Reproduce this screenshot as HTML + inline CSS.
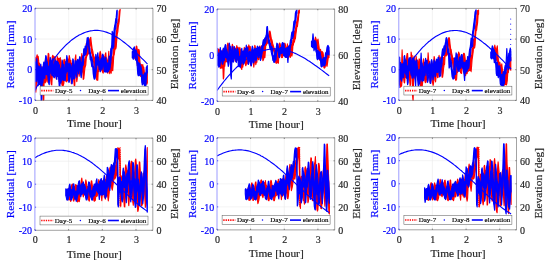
<!DOCTYPE html>
<html><head><meta charset="utf-8"><title>Residual and elevation</title>
<style>
html,body{margin:0;padding:0;background:#fff;}
body{width:550px;height:263px;overflow:hidden;}
svg{display:block;font-family:"Liberation Serif","Times New Roman",serif;}
.tk{font-size:10px;fill:#262626;stroke:#262626;stroke-width:0.18px;}
.lb{font-size:11.4px;fill:#262626;stroke:#262626;stroke-width:0.18px;}
.lg{font-size:7px;fill:#000;stroke:#000;stroke-width:0.15px;}
.bl{fill:#0000ff;stroke:#0000ff;}
</style></head><body>
<svg width="550" height="263" viewBox="0 0 550 263"><rect width="100%" height="100%" fill="#fff"/><g><clipPath id="c0"><rect x="35.0" y="7.8" width="117.9" height="93.1"/></clipPath><path d="M68.7 8.3V100.4M102.4 8.3V100.4M136.1 8.3V100.4M35.0 69.7H152.9M35.0 39.0H152.9" stroke="#e9e9e9" stroke-width="0.55" fill="none"/><g clip-path="url(#c0)"><path d="M35.2 57.2L35.8 75.5L36.2 60.7L36.8 55.9L37.2 54.7L37.8 60.2L38.2 56.3L38.8 61.9L39.2 63.3L39.8 64.4L40.2 66.3L40.8 68.8L41.2 66.0L41.8 70.5L42.2 69.4L42.8 68.9L43.2 83.6L43.8 65.4L44.2 66.7L44.8 63.8L45.2 60.7L45.8 63.3L46.2 61.6L46.8 63.9L47.2 64.6L47.8 58.5L48.2 53.4L48.8 53.9L49.2 60.4L49.8 60.7L50.2 64.2L50.8 66.9L51.2 72.6L51.8 70.8L52.2 57.0L52.8 55.2L53.2 56.2L53.8 61.0L54.2 56.5L54.8 59.0L55.2 57.5L55.8 66.9L56.2 67.2L56.8 66.4L57.2 56.4L57.8 58.1L58.2 61.5L58.8 58.3L59.2 68.1L59.8 58.6L60.2 57.6L60.8 59.8L61.2 62.0L61.8 72.0L62.2 73.0L62.8 70.6L63.2 68.2L63.8 59.7L64.2 68.2L64.8 59.3L65.2 62.6L65.8 70.2L66.2 66.1L66.8 68.7L67.2 69.9L67.8 67.2L68.2 59.1L68.8 61.5L69.2 55.5L69.8 57.9L70.2 62.7L70.8 60.2L71.2 64.1L71.8 68.0L72.2 63.0L72.8 64.3L73.2 66.1L73.8 65.6L74.2 68.7L74.8 74.1L75.2 58.4L75.8 54.9L76.2 65.7L76.8 69.8L77.2 64.2L77.8 60.6L78.2 60.9L78.8 62.7L79.2 62.1L79.8 59.7L80.2 57.0L80.8 60.3L81.2 62.3L81.8 53.6L82.2 57.3L82.8 56.0L83.2 64.4L83.8 67.6L84.2 65.9L84.8 59.1L85.2 57.8L85.8 57.1L86.2 43.5L86.8 43.6L87.2 47.0L87.8 46.0L88.2 48.3L88.8 40.3L89.2 41.9L89.8 38.9L90.2 38.1L90.8 37.3L91.2 41.7L91.8 46.1L92.2 49.2L92.8 51.2L93.2 53.7L93.8 56.4L94.2 56.8L94.8 59.8L95.2 64.7L95.8 63.8L96.2 69.9L96.8 73.2L97.2 75.9L97.8 67.8L98.2 61.0L98.8 63.5L99.2 61.6L99.8 52.9L100.2 51.4L100.8 53.7L101.2 58.2L101.8 61.6L102.2 62.3L102.8 61.3L103.2 58.6L103.8 56.6L104.2 61.1L104.8 59.3L105.2 54.4L105.8 52.8L106.2 57.8L106.8 58.7L107.2 62.2L107.8 61.7L108.2 59.7L108.8 51.3L109.2 61.9L109.8 63.9L110.2 59.6L110.8 61.5L111.2 62.1L111.8 56.6L112.2 57.7L112.8 59.9L113.2 49.3L113.8 47.8L114.2 44.6L114.8 36.8L115.2 38.7L115.8 40.9L116.2 33.6L116.8 29.2L117.2 24.2L117.8 22.9L118.2 19.6L118.8 18.8L119.2 11.1L119.8 10.3L120.2 9.4L120.2 9.4L119.8 14.2L119.2 21.3L118.8 24.1L118.2 27.1L117.8 31.9L117.2 34.1L116.8 39.5L116.2 46.9L115.8 48.9L115.2 48.6L114.8 50.4L114.2 54.7L113.8 55.8L113.2 64.6L112.8 70.7L112.2 70.5L111.8 63.6L111.2 73.2L110.8 71.5L110.2 67.5L109.8 73.8L109.2 71.3L108.8 68.6L108.2 71.5L107.8 73.3L107.2 72.3L106.8 70.5L106.2 64.4L105.8 61.8L105.2 62.0L104.8 68.2L104.2 68.7L103.8 68.2L103.2 73.1L102.8 72.7L102.2 70.9L101.8 70.3L101.2 66.1L100.8 65.0L100.2 63.2L99.8 67.1L99.2 69.0L98.8 71.5L98.2 71.5L97.8 80.3L97.2 80.3L96.8 80.1L96.2 78.0L95.8 75.2L95.2 74.5L94.8 68.3L94.2 66.8L93.8 63.0L93.2 60.4L92.8 57.1L92.2 53.3L91.8 53.5L91.2 49.4L90.8 43.3L90.2 39.5L89.8 45.4L89.2 49.6L88.8 52.0L88.2 54.1L87.8 52.3L87.2 55.7L86.8 56.2L86.2 58.5L85.8 65.0L85.2 66.7L84.8 69.0L84.2 74.8L83.8 78.6L83.2 79.4L82.8 69.8L82.2 66.4L81.8 71.7L81.2 74.9L80.8 70.2L80.2 70.4L79.8 67.9L79.2 76.3L78.8 73.5L78.2 69.8L77.8 67.4L77.2 79.0L76.8 81.6L76.2 75.5L75.8 72.7L75.2 71.8L74.8 85.4L74.2 85.5L73.8 80.3L73.2 74.6L72.8 73.7L72.2 75.5L71.8 81.7L71.2 83.5L70.8 72.5L70.2 72.7L69.8 67.6L69.2 73.4L68.8 73.8L68.2 71.1L67.8 80.5L67.2 80.1L66.8 81.9L66.2 81.3L65.8 80.8L65.2 75.8L64.8 69.2L64.2 79.6L63.8 83.7L63.2 85.7L62.8 83.1L62.2 85.5L61.8 84.0L61.2 78.0L60.8 70.6L60.2 73.9L59.8 72.9L59.2 81.8L58.8 76.6L58.2 70.1L57.8 67.9L57.2 75.4L56.8 75.0L56.2 78.9L55.8 75.8L55.2 69.3L54.8 74.4L54.2 68.9L53.8 70.5L53.2 68.5L52.8 68.2L52.2 77.4L51.8 84.9L51.2 84.2L50.8 80.5L50.2 74.0L49.8 72.0L49.2 72.6L48.8 72.5L48.2 64.3L47.8 73.6L47.2 82.2L46.8 75.8L46.2 76.2L45.8 81.4L45.2 82.9L44.8 78.6L44.2 77.0L43.8 100.0L43.2 101.3L42.8 86.4L42.2 85.9L41.8 83.6L41.2 83.7L40.8 86.4L40.2 83.1L39.8 82.2L39.2 75.2L38.8 84.4L38.2 83.1L37.8 80.3L37.2 72.4L36.8 73.6L36.2 88.2L35.8 92.3L35.2 80.9ZM134.8 51.6L135.3 51.8L135.8 49.3L136.3 46.0L136.8 46.2L137.3 50.0L137.8 50.9L138.3 49.7L138.8 49.4L139.3 51.0L139.8 59.1L140.3 66.8L140.8 65.8L141.3 64.4L141.8 65.3L142.3 65.8L142.8 64.6L143.3 67.9L143.8 67.2L144.3 71.6L144.8 79.3L145.3 74.7L145.8 75.1L146.3 75.1L146.8 74.1L147.3 71.1L147.3 82.8L146.8 84.2L146.3 83.6L145.8 84.2L145.3 85.9L144.8 86.2L144.3 82.6L143.8 77.9L143.3 73.5L142.8 73.6L142.3 72.9L141.8 76.7L141.3 70.7L140.8 76.5L140.3 75.4L139.8 66.9L139.3 63.6L138.8 61.6L138.3 59.2L137.8 59.0L137.3 65.6L136.8 55.3L136.3 54.5L135.8 59.6L135.3 57.8L134.8 58.8Z" fill="#ff0000" stroke="#ff0000" stroke-width="1.1" stroke-linejoin="round"/><path d="M35.2 62.1L35.8 62.3L36.2 63.5L36.8 58.5L37.2 63.9L37.8 65.7L38.2 70.6L38.8 66.2L39.2 68.0L39.8 73.0L40.2 66.9L40.8 64.0L41.2 80.2L41.8 70.6L42.2 67.2L42.8 67.0L43.2 65.9L43.8 62.2L44.2 63.9L44.8 66.4L45.2 61.0L45.8 55.5L46.2 56.4L46.8 61.6L47.2 61.8L47.8 66.8L48.2 67.5L48.8 74.1L49.2 70.9L49.8 60.9L50.2 57.4L50.8 59.3L51.2 60.7L51.8 61.0L52.2 61.4L52.8 58.7L53.2 66.7L53.8 65.8L54.2 65.7L54.8 61.6L55.2 59.9L55.8 62.9L56.2 61.0L56.8 67.7L57.2 61.0L57.8 63.1L58.2 62.3L58.8 64.3L59.2 64.7L59.8 67.5L60.2 72.5L60.8 68.9L61.2 71.1L61.8 66.9L62.2 60.1L62.8 65.1L63.2 70.1L63.8 64.4L64.2 71.6L64.8 67.7L65.2 68.5L65.8 61.3L66.2 62.9L66.8 55.5L67.2 57.8L67.8 63.3L68.2 63.3L68.8 65.6L69.2 69.4L69.8 63.1L70.2 65.7L70.8 65.0L71.2 66.8L71.8 74.9L72.2 73.0L72.8 58.9L73.2 59.2L73.8 66.9L74.2 71.7L74.8 65.2L75.2 60.6L75.8 63.8L76.2 63.3L76.8 60.8L77.2 60.3L77.8 59.4L78.2 61.5L78.8 66.1L79.2 59.5L79.8 56.7L80.2 60.3L80.8 63.0L81.2 64.1L81.8 64.5L82.2 58.9L82.8 55.9L83.2 57.4L83.8 48.9L84.2 48.9L84.8 49.3L85.2 46.2L85.8 49.2L86.2 46.6L86.8 41.7L87.2 37.9L87.8 38.1L88.2 37.5L88.8 41.7L89.2 47.2L89.8 48.3L90.2 52.5L90.8 54.4L91.2 57.5L91.8 57.1L92.2 59.0L92.8 62.4L93.2 66.2L93.8 68.6L94.2 74.2L94.8 74.8L95.2 65.6L95.8 54.4L96.2 63.4L96.8 60.4L97.2 56.1L97.8 52.8L98.2 56.7L98.8 58.1L99.2 61.4L99.8 62.3L100.2 62.6L100.8 59.9L101.2 58.3L101.8 59.6L102.2 55.0L102.8 54.2L103.2 55.3L103.8 57.0L104.2 59.9L104.8 61.8L105.2 59.0L105.8 57.2L106.2 60.9L106.8 65.0L107.2 63.8L107.8 62.9L108.2 64.2L108.8 62.4L109.2 56.1L109.8 59.2L110.2 59.8L110.8 48.5L111.2 49.0L111.8 44.8L112.2 31.4L112.8 33.2L113.2 38.8L113.8 33.5L114.2 28.8L114.8 25.4L115.2 23.6L115.8 18.7L116.2 17.9L116.8 10.8L117.2 10.2L117.2 13.8L116.8 22.6L116.2 22.7L115.8 28.2L115.2 29.4L114.8 35.7L114.2 38.8L113.8 46.0L113.2 48.1L112.8 44.9L112.2 48.5L111.8 53.1L111.2 56.9L110.8 62.0L110.2 67.0L109.8 69.4L109.2 65.2L108.8 70.5L108.2 71.5L107.8 66.8L107.2 72.4L106.8 71.1L106.2 71.2L105.8 72.0L105.2 68.2L104.8 72.0L104.2 70.6L103.8 66.6L103.2 64.7L102.8 61.4L102.2 69.3L101.8 67.2L101.2 68.1L100.8 70.8L100.2 71.8L99.8 69.4L99.2 69.4L98.8 65.8L98.2 63.8L97.8 60.7L97.2 65.3L96.8 66.4L96.2 70.4L95.8 73.2L95.2 77.7L94.8 79.2L94.2 79.0L93.8 77.3L93.2 73.3L92.8 67.4L92.2 66.1L91.8 66.5L91.2 62.1L90.8 60.1L90.2 59.4L89.8 53.5L89.2 53.6L88.8 47.3L88.2 43.7L87.8 39.7L87.2 44.9L86.8 48.9L86.2 52.3L85.8 54.5L85.2 52.0L84.8 55.5L84.2 55.0L83.8 58.0L83.2 65.1L82.8 64.5L82.2 67.5L81.8 72.6L81.2 77.6L80.8 75.2L80.2 67.0L79.8 67.2L79.2 69.7L78.8 73.9L78.2 70.3L77.8 69.1L77.2 69.2L76.8 77.2L76.2 73.8L75.8 71.3L75.2 70.4L74.8 77.9L74.2 78.8L73.8 78.8L73.2 70.8L72.8 76.1L72.2 83.3L71.8 83.8L71.2 77.5L70.8 75.3L70.2 74.6L69.8 77.9L69.2 82.2L68.8 82.2L68.2 71.7L67.8 71.8L67.2 71.3L66.8 67.6L66.2 73.2L65.8 72.5L65.2 80.8L64.8 80.1L64.2 79.6L63.8 80.5L63.2 80.3L62.8 78.5L62.2 74.7L61.8 79.9L61.2 81.3L60.8 83.2L60.2 81.3L59.8 87.3L59.2 85.5L58.8 79.4L58.2 74.1L57.8 76.4L57.2 73.4L56.8 79.4L56.2 76.6L55.8 74.6L55.2 71.4L54.8 76.4L54.2 77.8L53.8 77.2L53.2 75.2L52.8 71.0L52.2 75.8L51.8 74.2L51.2 73.8L50.8 69.0L50.2 68.8L49.8 72.6L49.2 84.6L48.8 83.5L48.2 79.4L47.8 75.5L47.2 74.0L46.8 73.6L46.2 74.8L45.8 65.9L45.2 72.6L44.8 78.6L44.2 77.2L43.8 74.4L43.2 78.9L42.8 82.8L42.2 80.6L41.8 99.5L41.2 101.3L40.8 77.0L40.2 83.3L39.8 84.7L39.2 84.0L38.8 78.9L38.2 85.7L37.8 80.4L37.2 78.4L36.8 74.9L36.2 81.5L35.8 81.4L35.2 79.8ZM132.3 51.6L132.8 52.5L133.3 49.1L133.8 48.0L134.3 46.9L134.8 51.9L135.3 51.9L135.8 49.9L136.3 50.8L136.8 53.1L137.3 59.0L137.8 63.9L138.3 62.4L138.8 63.8L139.3 65.4L139.8 63.1L140.3 67.2L140.8 66.1L141.3 68.4L141.8 71.6L142.3 78.6L142.8 74.9L143.3 76.7L143.8 75.7L144.3 74.1L144.8 72.9L145.3 76.3L145.8 75.1L146.3 67.3L146.8 66.5L147.3 65.6L147.3 72.5L146.8 73.6L146.3 77.6L145.8 86.8L145.3 83.1L144.8 89.1L144.3 83.6L143.8 82.7L143.3 84.0L142.8 84.1L142.3 84.9L141.8 82.2L141.3 73.7L140.8 74.6L140.3 74.6L139.8 74.4L139.3 75.6L138.8 71.0L138.3 75.7L137.8 74.1L137.3 67.0L136.8 62.4L136.3 59.7L135.8 60.2L135.3 58.9L134.8 57.3L134.3 56.0L133.8 52.8L133.3 59.3L132.8 58.1L132.3 57.7Z" fill="#0000ff" stroke="#0000ff" stroke-width="1.2" stroke-linejoin="round"/><polyline points="35.0,90.4 36.4,87.6 37.8,85.0 39.3,82.3 40.7,79.8 42.1,77.3 43.5,74.8 45.0,72.5 46.4,70.2 47.8,67.9 49.2,65.8 50.7,63.7 52.1,61.6 53.5,59.6 54.9,57.7 56.4,55.9 57.8,54.1 59.2,52.4 60.6,50.7 62.1,49.1 63.5,47.6 64.9,46.1 66.3,44.7 67.8,43.4 69.2,42.2 70.6,40.9 72.0,39.8 73.5,38.7 74.9,37.7 76.3,36.8 77.7,35.9 79.1,35.1 80.6,34.4 82.0,33.7 83.4,33.1 84.8,32.5 86.3,32.0 87.7,31.6 89.1,31.2 90.5,30.9 92.0,30.7 93.4,30.5 94.8,30.4 96.2,30.4 97.7,30.4 99.1,30.5 100.5,30.7 101.9,31.0 103.4,31.3 104.8,31.7 106.2,32.1 107.6,32.6 109.1,33.2 110.5,33.8 111.9,34.5 113.3,35.2 114.8,36.0 116.2,36.8 117.6,37.7 119.0,38.6 120.5,39.6 121.9,40.6 123.3,41.7 124.7,42.8 126.1,43.9 127.6,45.1 129.0,46.3 130.4,47.5 131.8,48.8 133.3,50.1 134.7,51.4 136.1,52.7 137.5,54.1 139.0,55.5 140.4,56.9 141.8,58.3 143.2,59.7 144.7,61.2 146.1,62.6 147.5,64.1" fill="none" stroke="#0000ff" stroke-width="1.15"/></g><path d="M35.0 8.3H152.9M35.0 100.4H152.9M152.9 8.3V100.4" stroke="#8c8c8c" stroke-width="0.8" fill="none"/><path d="M35.0 8.3V100.4" stroke="#9c9cff" stroke-width="1" fill="none"/><path d="M35.0 100.4v-1.2M35.0 8.3v1.2M68.7 100.4v-1.2M68.7 8.3v1.2M102.4 100.4v-1.2M102.4 8.3v1.2M136.1 100.4v-1.2M136.1 8.3v1.2M152.9 100.4h-1.2M152.9 69.7h-1.2M152.9 39.0h-1.2M152.9 8.3h-1.2" stroke="#404040" stroke-width="0.6" fill="none"/><path d="M35.0 100.4h1.2M35.0 69.7h1.2M35.0 39.0h1.2M35.0 8.3h1.2" stroke="#0000ff" stroke-width="0.6" fill="none"/><text x="35.4" y="113.5" text-anchor="middle" class="tk">0</text><text x="69.1" y="113.5" text-anchor="middle" class="tk">1</text><text x="102.8" y="113.5" text-anchor="middle" class="tk">2</text><text x="136.5" y="113.5" text-anchor="middle" class="tk">3</text><text x="32.2" y="104.1" text-anchor="end" class="tk bl">-10</text><text x="32.2" y="73.4" text-anchor="end" class="tk bl">0</text><text x="32.2" y="42.7" text-anchor="end" class="tk bl">10</text><text x="32.2" y="12.0" text-anchor="end" class="tk bl">20</text><text x="156.5" y="104.3" class="tk">40</text><text x="156.5" y="73.6" class="tk">50</text><text x="156.5" y="42.9" class="tk">60</text><text x="156.5" y="12.2" class="tk">70</text><text x="94.4" y="127.2" text-anchor="middle" class="lb">Time [hour]</text><text transform="translate(13.8 54.5) rotate(-90)" text-anchor="middle" class="lb bl">Residual [mm]</text><text transform="translate(178.0 54.0) rotate(-90)" text-anchor="middle" class="lb">Elevation [deg]</text><rect x="40.1" y="86.2" width="108" height="8.8" fill="#fff" stroke="#555" stroke-width="0.5"/><path d="M41.3 90.6h12" stroke="#ff0000" stroke-width="1.6" stroke-dasharray="1.3 1"/><text x="54.9" y="92.8" class="lg">Day-5</text><circle cx="80.5" cy="90.6" r="0.75" fill="#0000ff"/><text x="88.3" y="92.8" class="lg">Day-6</text><path d="M108.0 90.6h11" stroke="#0000ff" stroke-width="1.6"/><text x="120.8" y="92.8" class="lg">elevation</text></g>
<g><clipPath id="c1"><rect x="217.1" y="8.6" width="117.5" height="93.3"/></clipPath><path d="M250.7 9.1V101.4M284.2 9.1V101.4M317.8 9.1V101.4M217.1 55.2H334.6" stroke="#e9e9e9" stroke-width="0.55" fill="none"/><g clip-path="url(#c1)"><path d="M217.3 48.4L217.8 49.1L218.3 49.9L218.8 49.1L219.3 49.7L219.8 51.0L220.3 56.0L220.8 51.9L221.3 52.9L221.8 59.3L222.3 53.5L222.8 49.9L223.3 68.3L223.8 54.7L224.3 53.0L224.8 53.7L225.3 50.9L225.8 49.3L226.3 50.2L226.8 51.8L227.3 46.3L227.8 43.1L228.3 44.1L228.8 47.1L229.3 47.8L229.8 52.3L230.3 52.9L230.8 58.7L231.3 57.7L231.8 47.9L232.3 44.3L232.8 45.7L233.3 47.5L233.8 47.3L234.3 47.9L234.8 48.0L235.3 52.7L235.8 48.2L236.3 48.7L236.8 45.5L237.3 48.4L237.8 47.2L238.3 47.7L238.8 52.2L239.3 49.3L239.8 47.3L240.3 49.4L240.8 50.3L241.3 57.5L241.8 61.2L242.3 55.5L242.8 58.1L243.3 56.0L243.8 50.6L244.3 47.3L244.8 50.3L245.3 51.2L245.8 48.6L246.3 51.5L246.8 51.0L247.3 53.1L247.8 46.5L248.3 48.3L248.8 44.9L249.3 46.4L249.8 49.3L250.3 46.5L250.8 57.0L251.3 53.9L251.8 50.0L252.3 51.6L252.8 51.2L253.3 53.3L253.8 61.2L254.3 55.1L254.8 45.2L255.3 47.1L255.8 51.8L256.4 56.6L256.9 51.4L257.4 48.0L257.9 50.3L258.4 50.3L258.9 47.2L259.4 47.5L259.9 45.9L260.4 48.5L260.9 47.5L261.4 47.0L261.9 45.5L262.4 48.4L262.9 49.6L263.4 53.9L263.9 44.6L264.4 44.3L264.9 46.3L265.4 41.6L265.9 38.8L266.4 39.4L266.9 37.6L267.4 36.5L267.9 40.5L268.4 36.4L268.9 34.4L269.4 31.4L269.9 31.0L270.4 32.8L270.9 36.1L271.4 39.0L271.9 39.7L272.4 42.1L272.9 44.5L273.4 45.9L273.9 47.5L274.4 48.6L274.9 51.4L275.4 54.3L275.9 55.3L276.4 58.6L276.9 58.7L277.4 51.3L277.9 49.4L278.4 48.7L278.9 47.3L279.4 43.0L279.9 43.2L280.4 44.9L280.9 47.8L281.4 49.1L281.9 50.0L282.4 50.4L282.9 46.2L283.4 47.4L283.9 48.5L284.4 43.9L284.9 43.1L285.4 44.9L285.9 47.2L286.4 49.2L286.9 49.6L287.4 43.8L287.9 47.4L288.4 49.8L288.9 50.6L289.4 47.0L289.9 48.7L290.4 49.1L290.9 46.4L291.4 44.0L291.9 49.3L292.4 45.4L292.9 40.1L293.4 38.9L293.9 33.5L294.4 31.0L294.9 32.8L295.4 29.6L295.9 26.2L296.4 22.8L296.9 21.1L297.4 19.6L297.9 15.9L298.4 11.8L298.9 10.2L299.4 10.0L299.4 12.8L298.9 13.7L298.4 19.5L297.9 22.6L297.4 26.8L296.9 26.4L296.4 30.6L295.9 34.1L295.4 38.6L294.9 39.4L294.4 42.1L293.9 41.7L293.4 44.8L292.9 45.9L292.4 53.1L291.9 56.2L291.4 53.3L290.9 54.3L290.4 57.5L289.9 54.6L289.4 54.8L288.9 57.4L288.4 56.2L287.9 59.2L287.4 56.8L286.9 57.0L286.4 57.3L285.9 53.8L285.4 52.5L284.9 51.0L284.4 54.2L283.9 55.5L283.4 54.9L282.9 55.9L282.4 57.5L281.9 57.7L281.4 57.3L280.9 55.1L280.4 51.3L279.9 50.7L279.4 48.5L278.9 53.4L278.4 63.3L277.9 62.0L277.4 61.5L276.9 63.2L276.4 63.2L275.9 63.0L275.4 60.9L274.9 57.7L274.4 53.3L273.9 51.7L273.4 50.2L272.9 49.8L272.4 47.6L271.9 45.5L271.4 46.4L270.9 42.2L270.4 38.0L269.9 32.9L269.4 35.6L268.9 39.0L268.4 41.5L267.9 43.3L267.4 42.3L266.9 43.5L266.4 45.2L265.9 43.4L265.4 50.7L264.9 57.4L264.4 54.4L263.9 58.3L263.4 59.8L262.9 60.8L262.4 55.9L261.9 52.0L261.4 54.7L260.9 58.9L260.4 58.0L259.9 55.1L259.4 56.3L258.9 59.7L258.4 59.6L257.9 55.7L257.4 55.4L256.9 62.1L256.4 62.0L255.8 64.6L255.3 59.8L254.8 55.2L254.3 62.7L253.8 67.1L253.3 62.4L252.8 60.7L252.3 57.6L251.8 59.7L251.3 63.2L250.8 66.0L250.3 59.9L249.8 56.5L249.3 56.1L248.8 52.0L248.3 58.1L247.8 57.5L247.3 63.6L246.8 63.6L246.3 64.0L245.8 65.8L245.3 64.4L244.8 62.9L244.3 54.9L243.8 61.1L243.3 63.4L242.8 67.3L242.3 63.5L241.8 69.5L241.3 68.8L240.8 66.1L240.3 59.2L239.8 59.8L239.3 58.9L238.8 62.7L238.3 60.4L237.8 58.2L237.3 57.4L236.8 60.4L236.3 61.2L235.8 60.6L235.3 61.4L234.8 58.5L234.3 58.6L233.8 56.7L233.3 55.3L232.8 54.5L232.3 54.4L231.8 56.4L231.3 68.9L230.8 66.0L230.3 61.9L229.8 60.6L229.3 57.7L228.8 58.7L228.3 58.9L227.8 50.6L227.3 57.7L226.8 60.7L226.3 61.9L225.8 61.0L225.3 60.9L224.8 66.2L224.3 63.7L223.8 77.1L223.3 79.0L222.8 64.2L222.3 66.4L221.8 68.3L221.3 67.5L220.8 62.7L220.3 68.5L219.8 64.1L219.3 62.0L218.8 59.5L218.3 64.2L217.8 64.6L217.3 63.6ZM314.0 41.8L314.5 41.3L315.0 39.1L315.5 37.1L316.0 38.6L316.5 41.4L317.0 40.8L317.5 40.6L318.0 39.1L318.5 43.0L319.0 46.5L319.5 51.3L320.0 52.4L320.5 49.2L321.0 52.3L321.5 52.6L322.0 51.4L322.5 52.1L323.0 52.7L323.5 56.1L324.0 64.2L324.5 61.0L325.0 58.8L325.5 59.7L326.0 58.9L326.5 56.0L327.0 61.9L327.5 55.1L328.0 52.7L328.5 51.3L329.0 50.9L329.0 57.5L328.5 56.2L328.0 59.7L327.5 63.5L327.0 66.4L326.5 63.9L326.0 64.5L325.5 65.6L325.0 67.4L324.5 68.1L324.0 67.8L323.5 65.2L323.0 61.7L322.5 57.9L322.0 63.5L321.5 63.9L321.0 58.8L320.5 56.2L320.0 59.6L319.5 60.2L319.0 53.4L318.5 49.7L318.0 47.2L317.5 49.1L317.0 45.4L316.5 46.9L316.0 44.5L315.5 42.4L315.0 47.8L314.5 46.2L314.0 46.1Z" fill="#ff0000" stroke="#ff0000" stroke-width="1.1" stroke-linejoin="round"/><path d="M217.3 48.7L217.8 56.8L218.3 52.9L218.8 54.1L219.3 54.5L219.8 53.6L220.3 47.7L220.8 51.8L221.3 50.7L221.8 51.6L222.3 51.5L222.8 51.3L223.3 48.2L223.8 50.5L224.3 52.1L224.8 46.8L225.3 44.6L225.8 44.9L226.3 49.2L226.8 49.8L227.3 52.2L227.8 55.3L228.3 57.8L228.8 55.3L229.3 43.1L229.8 46.0L230.3 46.2L230.8 53.6L231.3 63.6L231.8 50.1L232.3 46.3L232.8 53.2L233.3 52.5L233.8 51.6L234.3 46.5L234.8 48.2L235.3 50.7L235.8 49.8L236.3 51.1L236.8 52.1L237.3 48.4L237.8 49.2L238.3 51.9L238.8 56.8L239.3 56.5L239.8 57.3L240.3 58.6L240.8 54.9L241.3 49.4L241.8 48.4L242.3 53.5L242.8 52.0L243.3 50.9L243.8 54.8L244.3 55.7L244.8 48.9L245.3 48.3L245.8 50.2L246.3 45.2L246.8 49.0L247.3 50.6L247.8 47.7L248.3 55.4L248.8 53.0L249.3 52.4L249.8 51.0L250.3 52.1L250.8 53.6L251.3 59.5L251.8 49.3L252.3 46.1L252.8 47.4L253.3 50.4L253.8 56.1L254.3 50.2L254.8 48.4L255.3 49.1L255.8 51.5L256.4 48.7L256.9 48.1L257.4 46.1L257.9 49.5L258.4 49.2L258.9 47.0L259.4 46.8L259.9 49.6L260.4 51.9L260.9 52.3L261.4 46.9L261.9 46.2L262.4 46.6L262.9 42.2L263.4 39.8L263.9 40.1L264.4 39.5L264.9 37.9L265.4 38.9L265.9 36.0L266.4 34.5L266.9 26.7L267.4 26.5L267.9 32.5L268.4 37.0L268.9 39.3L269.4 40.3L269.9 43.9L270.4 43.3L270.9 46.5L271.4 48.1L271.9 46.6L272.4 49.7L272.9 54.7L273.4 55.7L273.9 57.7L274.4 57.7L274.9 51.8L275.4 49.9L275.9 52.2L276.4 46.9L276.9 43.2L277.4 44.3L277.9 44.2L278.4 47.5L278.9 49.1L279.4 49.0L279.9 50.4L280.4 47.5L280.9 47.5L281.4 49.6L281.9 43.9L282.4 42.6L282.9 42.8L283.4 44.1L283.9 43.5L284.4 48.8L284.9 50.6L285.4 48.3L285.9 50.4L286.4 51.1L286.9 47.7L287.4 47.6L287.9 50.1L288.4 46.9L288.9 45.8L289.4 48.5L289.9 44.2L290.4 40.3L290.9 39.3L291.4 35.4L291.9 32.2L292.4 33.5L292.9 31.2L293.4 26.9L293.9 21.5L294.4 20.8L294.9 20.2L295.4 13.1L295.9 11.3L296.4 10.6L296.9 10.2L296.9 13.3L296.4 13.9L295.9 20.2L295.4 21.9L294.9 25.4L294.4 26.8L293.9 30.4L293.4 35.5L292.9 37.4L292.4 38.6L291.9 38.6L291.4 42.5L290.9 44.5L290.4 46.5L289.9 51.6L289.4 55.2L288.9 52.9L288.4 54.3L287.9 62.4L287.4 56.3L286.9 55.3L286.4 57.3L285.9 55.1L285.4 57.5L284.9 56.3L284.4 56.2L283.9 55.7L283.4 54.5L282.9 51.6L282.4 48.9L281.9 53.2L281.4 53.5L280.9 53.1L280.4 52.0L279.9 56.1L279.4 57.6L278.9 56.9L278.4 52.5L277.9 49.7L277.4 50.7L276.9 49.2L276.4 54.5L275.9 60.0L275.4 56.2L274.9 61.2L274.4 62.3L273.9 62.3L273.4 60.6L272.9 60.5L272.4 56.5L271.9 54.8L271.4 52.7L270.9 49.9L270.4 49.3L269.9 48.3L269.4 45.5L268.9 43.3L268.4 42.6L267.9 37.6L267.4 32.4L266.9 35.0L266.4 37.4L265.9 41.7L265.4 43.2L264.9 43.5L264.4 45.1L263.9 45.5L263.4 43.5L262.9 50.6L262.4 50.9L261.9 54.2L261.4 56.4L260.9 59.0L260.4 60.5L259.9 55.5L259.4 53.0L258.9 54.6L258.4 57.5L257.9 55.2L257.4 55.6L256.9 54.8L256.4 59.1L255.8 61.0L255.3 56.7L254.8 55.8L254.3 59.7L253.8 62.7L253.3 62.6L252.8 57.3L252.3 54.9L251.8 63.3L251.3 65.8L250.8 64.7L250.3 61.6L249.8 58.0L249.3 59.0L248.8 63.4L248.3 64.4L247.8 59.0L247.3 57.4L246.8 56.2L246.3 52.8L245.8 56.8L245.3 58.2L244.8 61.3L244.3 62.6L243.8 63.4L243.3 64.3L242.8 61.4L242.3 61.1L241.8 55.9L241.3 59.8L240.8 64.2L240.3 67.3L239.8 63.0L239.3 66.6L238.8 66.6L238.3 65.0L237.8 56.2L237.3 56.6L236.8 58.9L236.3 62.3L235.8 60.9L235.3 57.6L234.8 56.1L234.3 57.0L233.8 60.1L233.3 62.1L232.8 61.7L232.3 57.5L231.8 60.7L231.3 79.0L230.8 75.7L230.3 56.1L229.8 53.0L229.3 57.2L228.8 64.1L228.3 66.5L227.8 62.5L227.3 60.9L226.8 57.1L226.3 57.9L225.8 57.5L225.3 51.9L224.8 56.3L224.3 60.4L223.8 60.7L223.3 60.8L222.8 64.2L222.3 63.9L221.8 61.2L221.3 59.8L220.8 59.3L220.3 62.6L219.8 66.4L219.3 65.6L218.8 67.2L218.3 62.2L217.8 65.7L217.3 62.3ZM311.5 41.3L312.0 41.4L312.5 40.0L313.0 33.9L313.5 39.5L314.0 40.7L314.5 40.7L315.0 41.4L315.5 41.0L316.0 43.0L316.5 48.1L317.0 51.5L317.5 50.1L318.0 50.7L318.5 51.4L319.0 52.3L319.5 54.1L320.0 51.8L320.5 55.3L321.0 57.0L321.5 62.5L322.0 60.0L322.5 59.1L323.0 60.3L323.5 57.6L324.0 57.7L324.5 61.2L325.0 58.5L325.5 53.2L326.0 52.4L326.5 51.8L327.0 47.6L327.5 45.9L328.0 45.5L328.5 46.4L329.0 47.5L329.0 54.9L328.5 54.4L328.0 54.1L327.5 54.0L327.0 54.6L326.5 57.8L326.0 57.7L325.5 62.3L325.0 64.7L324.5 65.7L324.0 65.8L323.5 64.9L323.0 64.9L322.5 66.0L322.0 66.7L321.5 66.8L321.0 66.2L320.5 59.7L320.0 58.7L319.5 59.2L319.0 58.1L318.5 58.9L318.0 57.4L317.5 59.6L317.0 58.8L316.5 52.7L316.0 51.8L315.5 47.6L315.0 49.2L314.5 46.9L314.0 50.6L313.5 44.8L313.0 43.5L312.5 47.6L312.0 45.6L311.5 46.6Z" fill="#0000ff" stroke="#0000ff" stroke-width="1.2" stroke-linejoin="round"/><polyline points="217.1,90.5 218.5,88.5 219.9,86.6 221.4,84.7 222.8,82.8 224.2,81.0 225.6,79.3 227.0,77.6 228.5,75.9 229.9,74.3 231.3,72.8 232.7,71.3 234.1,69.8 235.6,68.4 237.0,67.0 238.4,65.7 239.8,64.5 241.2,63.3 242.6,62.1 244.1,61.0 245.5,59.9 246.9,58.9 248.3,57.9 249.7,57.0 251.2,56.2 252.6,55.3 254.0,54.6 255.4,53.8 256.8,53.2 258.3,52.5 259.7,51.9 261.1,51.4 262.5,50.9 263.9,50.5 265.4,50.1 266.8,49.8 268.2,49.5 269.6,49.3 271.0,49.1 272.5,48.9 273.9,48.8 275.3,48.8 276.7,48.8 278.1,48.9 279.6,49.0 281.0,49.1 282.4,49.4 283.8,49.6 285.2,49.9 286.6,50.3 288.1,50.7 289.5,51.2 290.9,51.7 292.3,52.2 293.7,52.8 295.2,53.4 296.6,54.0 298.0,54.7 299.4,55.4 300.8,56.2 302.3,57.0 303.7,57.8 305.1,58.6 306.5,59.5 307.9,60.4 309.4,61.3 310.8,62.3 312.2,63.2 313.6,64.2 315.0,65.2 316.5,66.2 317.9,67.3 319.3,68.3 320.7,69.4 322.1,70.4 323.6,71.5 325.0,72.6 326.4,73.7 327.8,74.8 329.2,75.9" fill="none" stroke="#0000ff" stroke-width="1.15"/></g><path d="M217.1 9.1H334.6M217.1 101.4H334.6M334.6 9.1V101.4" stroke="#8c8c8c" stroke-width="0.8" fill="none"/><path d="M217.1 9.1V101.4" stroke="#9c9cff" stroke-width="1" fill="none"/><path d="M217.1 101.4v-1.2M217.1 9.1v1.2M250.7 101.4v-1.2M250.7 9.1v1.2M284.2 101.4v-1.2M284.2 9.1v1.2M317.8 101.4v-1.2M317.8 9.1v1.2M334.6 101.4h-1.2M334.6 55.2h-1.2M334.6 9.1h-1.2" stroke="#404040" stroke-width="0.6" fill="none"/><path d="M217.1 101.4h1.2M217.1 55.2h1.2M217.1 9.1h1.2" stroke="#0000ff" stroke-width="0.6" fill="none"/><text x="217.5" y="114.5" text-anchor="middle" class="tk">0</text><text x="251.1" y="114.5" text-anchor="middle" class="tk">1</text><text x="284.6" y="114.5" text-anchor="middle" class="tk">2</text><text x="318.2" y="114.5" text-anchor="middle" class="tk">3</text><text x="214.3" y="105.1" text-anchor="end" class="tk bl">-20</text><text x="214.3" y="59.0" text-anchor="end" class="tk bl">0</text><text x="214.3" y="12.8" text-anchor="end" class="tk bl">20</text><text x="338.2" y="105.3" class="tk">40</text><text x="338.2" y="59.1" class="tk">60</text><text x="338.2" y="13.0" class="tk">80</text><text x="276.2" y="128.2" text-anchor="middle" class="lb">Time [hour]</text><text transform="translate(195.9 55.4) rotate(-90)" text-anchor="middle" class="lb bl">Residual [mm]</text><text transform="translate(359.7 54.9) rotate(-90)" text-anchor="middle" class="lb">Elevation [deg]</text><rect x="222.2" y="87.2" width="108" height="8.8" fill="#fff" stroke="#555" stroke-width="0.5"/><path d="M223.4 91.6h12" stroke="#ff0000" stroke-width="1.6" stroke-dasharray="1.3 1"/><text x="237.0" y="93.8" class="lg">Day-6</text><circle cx="262.6" cy="91.6" r="0.75" fill="#0000ff"/><text x="270.4" y="93.8" class="lg">Day-7</text><path d="M290.1 91.6h11" stroke="#0000ff" stroke-width="1.6"/><text x="302.9" y="93.8" class="lg">elevation</text></g>
<g><clipPath id="c2"><rect x="398.8" y="7.9" width="117.6" height="93.0"/></clipPath><path d="M432.4 8.4V100.4M466.0 8.4V100.4M499.6 8.4V100.4M398.8 69.7H516.4M398.8 39.1H516.4" stroke="#e9e9e9" stroke-width="0.55" fill="none"/><g clip-path="url(#c2)"><path d="M399.1 67.8L399.6 71.8L400.1 66.0L400.6 67.5L401.1 68.4L401.6 66.6L402.1 49.9L402.6 64.3L403.1 62.5L403.6 64.0L404.1 63.7L404.6 63.8L405.1 58.8L405.6 62.2L406.1 66.1L406.6 57.2L407.1 53.5L407.6 53.6L408.1 61.3L408.6 60.8L409.1 65.1L409.6 68.8L410.1 73.2L410.6 70.3L411.1 52.0L411.6 55.4L412.1 55.4L412.6 65.2L413.1 81.1L413.6 61.3L414.1 56.0L414.6 63.3L415.1 65.4L415.6 63.6L416.1 56.3L416.6 59.9L417.1 63.4L417.6 60.1L418.1 65.4L418.6 65.2L419.1 58.7L419.6 59.6L420.1 65.0L420.6 72.5L421.1 71.5L421.6 72.5L422.1 72.4L422.6 68.4L423.1 61.1L423.6 58.7L424.1 67.5L424.6 66.6L425.1 63.6L425.6 68.8L426.1 70.8L426.6 62.5L427.1 60.1L427.6 63.8L428.1 52.8L428.6 59.8L429.1 62.6L429.6 61.4L430.1 68.9L430.6 65.7L431.1 64.7L431.6 64.1L432.1 63.4L432.6 64.8L433.1 77.5L433.6 63.4L434.1 56.5L434.6 58.5L435.1 67.4L435.6 71.0L436.1 62.8L436.6 59.5L437.1 60.2L437.6 65.0L438.1 60.1L438.6 59.8L439.1 55.4L439.6 60.9L440.1 62.8L440.6 57.7L441.1 56.9L441.6 62.9L442.1 66.9L442.6 66.2L443.1 59.0L443.6 57.4L444.1 57.7L444.6 55.1L445.1 48.7L445.6 48.6L446.1 48.3L446.6 45.5L447.1 47.7L447.6 44.9L448.1 42.5L448.6 38.0L449.1 37.6L449.6 39.2L450.1 44.5L450.6 48.4L451.1 49.4L451.6 52.8L452.1 54.9L452.6 57.3L453.1 58.3L453.6 58.3L454.1 62.8L454.6 67.6L455.1 71.1L455.6 74.3L456.1 72.8L456.6 64.3L457.1 60.6L457.6 64.1L458.1 58.8L458.6 52.0L459.1 53.2L459.6 55.0L460.1 59.7L460.6 62.5L461.1 56.2L461.6 63.8L462.1 56.9L462.6 57.4L463.1 62.3L463.6 53.3L464.1 53.2L464.6 54.6L465.1 58.2L465.6 62.8L466.1 61.2L466.6 63.2L467.1 60.1L467.6 61.7L468.1 64.1L468.6 59.3L469.1 58.2L469.6 60.4L470.1 57.6L470.6 55.0L471.1 60.6L471.6 58.6L472.1 48.6L472.6 49.2L473.1 43.5L473.6 39.0L474.1 39.5L474.6 38.7L475.1 32.3L475.6 26.6L476.1 23.9L476.6 22.0L477.1 10.5L477.6 11.6L478.1 10.6L478.6 10.0L478.6 13.9L478.1 14.9L477.6 22.8L477.1 25.8L476.6 30.1L476.1 30.7L475.6 35.5L475.1 44.8L474.6 48.0L474.1 48.1L473.6 46.9L473.1 52.4L472.6 56.3L472.1 59.4L471.6 66.1L471.1 71.6L470.6 66.8L470.1 70.5L469.6 69.5L469.1 70.7L468.6 69.6L468.1 71.5L467.6 70.1L467.1 73.8L466.6 72.3L466.1 72.9L465.6 75.7L465.1 68.2L464.6 64.4L464.1 61.2L463.6 68.9L463.1 68.0L462.6 67.5L462.1 67.8L461.6 73.5L461.1 72.9L460.6 73.0L460.1 67.5L459.6 62.5L459.1 64.0L458.6 63.9L458.1 67.8L457.6 72.5L457.1 71.8L456.6 79.2L456.1 80.3L455.6 80.2L455.1 77.7L454.6 78.3L454.1 71.0L453.6 69.0L453.1 66.7L452.6 62.7L452.1 61.7L451.6 60.7L451.1 56.3L450.6 54.1L450.1 53.3L449.6 46.0L449.1 39.6L448.6 43.5L448.1 47.1L447.6 53.2L447.1 55.0L446.6 54.1L446.1 56.0L445.6 55.5L445.1 54.2L444.6 64.3L444.1 64.9L443.6 68.3L443.1 73.4L442.6 77.2L442.1 77.2L441.6 69.8L441.1 66.9L440.6 68.4L440.1 73.1L439.6 69.4L439.1 71.2L438.6 68.2L438.1 77.4L437.6 77.7L437.1 72.7L436.6 71.0L436.1 76.1L435.6 81.9L435.1 80.5L434.6 72.0L434.1 68.1L433.6 82.9L433.1 85.5L432.6 82.6L432.1 77.9L431.6 73.3L431.1 75.8L430.6 83.4L430.1 82.1L429.6 73.4L429.1 73.0L428.6 71.8L428.1 66.2L427.6 73.4L427.1 74.4L426.6 78.6L426.1 81.7L425.6 82.7L425.1 82.2L424.6 79.1L424.1 77.0L423.6 69.0L423.1 76.2L422.6 82.9L422.1 86.8L421.6 82.0L421.1 86.4L420.6 86.4L420.1 81.5L419.6 70.8L419.1 72.9L418.6 75.2L418.1 80.1L417.6 77.5L417.1 72.6L416.6 72.3L416.1 74.4L415.6 75.2L415.1 79.0L414.6 77.1L414.1 72.1L413.6 77.1L413.1 101.3L412.6 96.0L412.1 70.3L411.6 66.6L411.1 72.3L410.6 84.1L410.1 85.9L409.6 80.0L409.1 78.8L408.6 72.2L408.1 73.8L407.6 73.3L407.1 64.2L406.6 71.2L406.1 77.3L405.6 77.4L405.1 77.7L404.6 83.0L404.1 82.4L403.6 78.1L403.1 76.5L402.6 75.2L402.1 80.2L401.6 86.1L401.1 84.4L400.6 87.1L400.1 79.9L399.6 85.0L399.1 83.5ZM493.3 52.4L493.8 51.4L494.3 48.6L494.8 45.0L495.3 48.0L495.8 49.8L496.3 50.9L496.8 48.1L497.3 45.9L497.8 53.2L498.3 58.9L498.8 64.8L499.3 66.4L499.8 62.0L500.3 65.1L500.8 66.4L501.3 66.8L501.8 63.9L502.3 68.8L502.8 69.6L503.3 77.9L503.8 75.5L504.3 74.5L504.8 76.1L505.3 72.9L505.8 72.2L506.3 77.8L506.8 74.3L507.3 66.3L507.8 65.6L508.3 65.9L508.8 59.1L509.3 55.8L509.8 55.8L510.3 58.4L510.8 57.5L510.8 70.3L510.3 69.4L509.8 67.1L509.3 66.5L508.8 69.0L508.3 72.8L507.8 72.5L507.3 80.1L506.8 83.7L506.3 85.0L505.8 83.8L505.3 84.3L504.8 83.7L504.3 84.2L503.8 86.8L503.3 86.2L502.8 84.6L502.3 76.4L501.8 73.5L501.3 75.3L500.8 74.6L500.3 76.4L499.8 73.0L499.3 76.3L498.8 75.6L498.3 66.7L497.8 64.7L497.3 60.4L496.8 60.4L496.3 58.4L495.8 60.0L495.3 55.1L494.8 53.2L494.3 58.6L493.8 57.9L493.3 58.7Z" fill="#ff0000" stroke="#ff0000" stroke-width="1.1" stroke-linejoin="round"/><path d="M399.1 67.6L399.6 57.0L400.1 65.1L400.6 62.6L401.1 64.6L401.6 67.3L402.1 63.9L402.6 63.9L403.1 64.0L403.6 65.7L404.1 56.6L404.6 55.6L405.1 59.9L405.6 62.0L406.1 60.1L406.6 65.3L407.1 65.9L407.6 74.3L408.1 69.6L408.6 60.1L409.1 57.9L409.6 57.9L410.1 58.6L410.6 57.5L411.1 60.8L411.6 62.1L412.1 66.9L412.6 58.2L413.1 61.6L413.6 58.1L414.1 60.4L414.6 62.9L415.1 60.8L415.6 68.7L416.1 64.3L416.6 59.8L417.1 65.0L417.6 69.3L418.1 72.6L418.6 76.5L419.1 69.4L419.6 74.4L420.1 70.8L420.6 63.2L421.1 53.2L421.6 63.8L422.1 63.1L422.6 67.2L423.1 72.0L423.6 67.3L424.1 65.8L424.6 62.1L425.1 62.1L425.6 58.4L426.1 60.9L426.6 63.3L427.1 60.3L427.6 72.3L428.1 69.3L428.6 64.7L429.1 63.9L429.6 62.8L430.1 68.5L430.6 76.8L431.1 61.6L431.6 59.6L432.1 61.4L432.6 66.1L433.1 69.7L433.6 64.7L434.1 59.9L434.6 61.8L435.1 63.5L435.6 62.1L436.1 61.5L436.6 59.1L437.1 60.9L437.6 62.1L438.1 57.5L438.6 57.2L439.1 59.2L439.6 67.3L440.1 67.5L440.6 60.8L441.1 58.0L441.6 58.0L442.1 52.0L442.6 48.9L443.1 50.4L443.6 48.7L444.1 45.9L444.6 47.4L445.1 44.3L445.6 41.9L446.1 38.2L446.6 37.6L447.1 39.1L447.6 44.3L448.1 48.9L448.6 49.1L449.1 53.7L449.6 53.6L450.1 57.2L450.6 60.5L451.1 60.6L451.6 64.0L452.1 69.0L452.6 71.9L453.1 73.4L453.6 73.9L454.1 66.3L454.6 57.8L455.1 60.8L455.6 59.4L456.1 52.9L456.6 55.6L457.1 54.1L457.6 58.0L458.1 61.5L458.6 62.9L459.1 65.7L459.6 57.2L460.1 60.7L460.6 61.7L461.1 55.6L461.6 54.6L462.1 54.5L462.6 58.8L463.1 62.7L463.6 64.0L464.1 62.3L464.6 62.6L465.1 63.5L465.6 64.0L466.1 60.9L466.6 60.5L467.1 64.5L467.6 56.6L468.1 57.3L468.6 60.0L469.1 53.9L469.6 49.5L470.1 48.0L470.6 44.3L471.1 38.2L471.6 39.5L472.1 39.2L472.6 32.0L473.1 29.6L473.6 25.1L474.1 21.5L474.6 17.4L475.1 11.9L475.6 10.8L476.1 9.9L476.1 13.7L475.6 15.0L475.1 22.5L474.6 27.4L474.1 29.2L473.6 31.3L473.1 35.3L472.6 46.5L472.1 45.6L471.6 47.7L471.1 47.3L470.6 52.4L470.1 57.0L469.6 55.6L469.1 65.8L468.6 68.3L468.1 64.5L467.6 69.6L467.1 70.5L466.6 71.8L466.1 69.7L465.6 72.9L465.1 71.1L464.6 80.4L464.1 74.9L463.6 72.0L463.1 69.1L462.6 67.0L462.1 65.7L461.6 62.1L461.1 67.5L460.6 68.3L460.1 68.6L459.6 67.1L459.1 71.4L458.6 70.0L458.1 71.2L457.6 68.5L457.1 65.9L456.6 63.8L456.1 62.6L455.6 74.5L455.1 73.3L454.6 69.5L454.1 77.6L453.6 78.7L453.1 79.1L452.6 78.0L452.1 76.6L451.6 71.2L451.1 68.0L450.6 65.2L450.1 64.2L449.6 66.7L449.1 68.1L448.6 56.1L448.1 53.3L447.6 52.4L447.1 45.2L446.6 39.0L446.1 42.4L445.6 46.0L445.1 51.6L444.6 53.4L444.1 54.5L443.6 55.3L443.1 55.5L442.6 54.2L442.1 62.1L441.6 66.5L441.1 67.2L440.6 76.0L440.1 75.6L439.6 76.9L439.1 74.3L438.6 67.0L438.1 68.1L437.6 72.5L437.1 72.4L436.6 69.2L436.1 68.9L435.6 76.8L435.1 76.4L434.6 71.5L434.1 69.1L433.6 75.6L433.1 79.8L432.6 76.5L432.1 72.7L431.6 67.7L431.1 80.6L430.6 83.3L430.1 83.2L429.6 76.3L429.1 73.7L428.6 75.3L428.1 80.4L427.6 82.4L427.1 76.3L426.6 72.6L426.1 72.1L425.6 67.0L425.1 75.4L424.6 73.3L424.1 76.9L423.6 80.3L423.1 80.1L422.6 81.3L422.1 81.0L421.6 79.6L421.1 70.2L420.6 77.5L420.1 80.8L419.6 83.8L419.1 82.6L418.6 87.4L418.1 84.8L417.6 78.6L417.1 72.7L416.6 74.7L416.1 75.0L415.6 86.1L415.1 80.6L414.6 72.2L414.1 68.6L413.6 74.9L413.1 78.0L412.6 75.2L412.1 78.2L411.6 73.9L411.1 75.1L410.6 71.8L410.1 71.0L409.6 67.5L409.1 67.7L408.6 72.1L408.1 82.7L407.6 84.7L407.1 78.8L406.6 78.1L406.1 75.0L405.6 73.5L405.1 71.9L404.6 64.1L404.1 71.9L403.6 77.7L403.1 75.1L402.6 74.1L402.1 77.8L401.6 81.2L401.1 79.2L400.6 78.2L400.1 76.2L399.6 72.8L399.1 87.5ZM490.8 52.2L491.3 52.5L491.8 48.8L492.3 45.8L492.8 46.7L493.3 48.6L493.8 50.2L494.3 49.9L494.8 52.3L495.3 52.5L495.8 58.6L496.3 64.4L496.8 66.4L497.3 62.3L497.8 65.7L498.3 67.0L498.8 65.9L499.3 65.9L499.8 66.5L500.3 70.5L500.8 77.6L501.3 74.3L501.8 76.5L502.3 75.1L502.8 74.3L503.3 71.5L503.8 76.9L504.3 74.9L504.8 67.5L505.3 65.2L505.8 66.2L506.3 59.6L506.8 48.6L507.3 57.9L507.8 57.9L508.3 59.2L508.8 53.3L509.3 53.3L509.8 50.7L510.3 48.0L510.8 51.7L510.8 60.8L510.3 55.1L509.8 61.0L509.3 60.9L508.8 65.2L508.3 69.7L507.8 66.8L507.3 66.2L506.8 67.2L506.3 69.8L505.8 73.6L505.3 72.4L504.8 75.3L504.3 83.3L503.8 84.4L503.3 85.7L502.8 88.7L502.3 88.6L501.8 84.2L501.3 85.3L500.8 85.0L500.3 83.5L499.8 76.9L499.3 74.5L498.8 73.8L498.3 77.7L497.8 75.1L497.3 71.6L496.8 75.5L496.3 73.7L495.8 64.9L495.3 62.3L494.8 60.6L494.3 62.7L493.8 56.6L493.3 58.7L492.8 56.2L492.3 54.6L491.8 58.9L491.3 57.7L490.8 58.0Z" fill="#0000ff" stroke="#0000ff" stroke-width="1.2" stroke-linejoin="round"/><path d="M510.7 19.0h0M510.7 24.1h0M510.7 29.2h0M510.7 34.3h0M510.7 39.4h0M510.7 44.5h0M510.7 49.6h0M510.7 54.7h0M510.7 59.8h0" stroke="#0000ff" stroke-width="1.1" stroke-linecap="round" fill="none"/><polyline points="398.8,81.5 400.2,79.0 401.6,76.5 403.1,74.1 404.5,71.8 405.9,69.5 407.3,67.3 408.7,65.1 410.2,63.1 411.6,61.0 413.0,59.1 414.4,57.2 415.8,55.4 417.3,53.6 418.7,51.9 420.1,50.3 421.5,48.7 422.9,47.2 424.4,45.8 425.8,44.4 427.2,43.1 428.6,41.8 430.1,40.7 431.5,39.5 432.9,38.5 434.3,37.5 435.7,36.6 437.2,35.7 438.6,34.9 440.0,34.2 441.4,33.5 442.8,32.9 444.3,32.4 445.7,31.9 447.1,31.5 448.5,31.2 449.9,30.9 451.4,30.7 452.8,30.6 454.2,30.5 455.6,30.5 457.0,30.5 458.5,30.7 459.9,30.9 461.3,31.1 462.7,31.5 464.1,31.9 465.6,32.3 467.0,32.8 468.4,33.4 469.8,34.1 471.2,34.8 472.7,35.5 474.1,36.3 475.5,37.2 476.9,38.1 478.4,39.0 479.8,40.0 481.2,41.0 482.6,42.1 484.0,43.2 485.5,44.3 486.9,45.5 488.3,46.7 489.7,48.0 491.1,49.2 492.6,50.5 494.0,51.8 495.4,53.2 496.8,54.6 498.2,55.9 499.7,57.4 501.1,58.8 502.5,60.2 503.9,61.7 505.3,63.1 506.8,64.6 508.2,66.0 509.6,67.5 511.0,69.0" fill="none" stroke="#0000ff" stroke-width="1.15"/></g><path d="M398.8 8.4H516.4M398.8 100.4H516.4M516.4 8.4V100.4" stroke="#8c8c8c" stroke-width="0.8" fill="none"/><path d="M398.8 8.4V100.4" stroke="#9c9cff" stroke-width="1" fill="none"/><path d="M398.8 100.4v-1.2M398.8 8.4v1.2M432.4 100.4v-1.2M432.4 8.4v1.2M466.0 100.4v-1.2M466.0 8.4v1.2M499.6 100.4v-1.2M499.6 8.4v1.2M516.4 100.4h-1.2M516.4 69.7h-1.2M516.4 39.1h-1.2M516.4 8.4h-1.2" stroke="#404040" stroke-width="0.6" fill="none"/><path d="M398.8 100.4h1.2M398.8 69.7h1.2M398.8 39.1h1.2M398.8 8.4h1.2" stroke="#0000ff" stroke-width="0.6" fill="none"/><text x="399.2" y="113.5" text-anchor="middle" class="tk">0</text><text x="432.8" y="113.5" text-anchor="middle" class="tk">1</text><text x="466.4" y="113.5" text-anchor="middle" class="tk">2</text><text x="500.0" y="113.5" text-anchor="middle" class="tk">3</text><text x="396.0" y="104.1" text-anchor="end" class="tk bl">-10</text><text x="396.0" y="73.4" text-anchor="end" class="tk bl">0</text><text x="396.0" y="42.8" text-anchor="end" class="tk bl">10</text><text x="396.0" y="12.1" text-anchor="end" class="tk bl">20</text><text x="520.0" y="104.3" class="tk">40</text><text x="520.0" y="73.6" class="tk">50</text><text x="520.0" y="43.0" class="tk">60</text><text x="520.0" y="12.3" class="tk">70</text><text x="458.0" y="127.2" text-anchor="middle" class="lb">Time [hour]</text><text transform="translate(377.6 54.5) rotate(-90)" text-anchor="middle" class="lb bl">Residual [mm]</text><text transform="translate(541.5 54.0) rotate(-90)" text-anchor="middle" class="lb">Elevation [deg]</text><rect x="403.9" y="86.2" width="108" height="8.8" fill="#fff" stroke="#555" stroke-width="0.5"/><path d="M405.1 90.6h12" stroke="#ff0000" stroke-width="1.6" stroke-dasharray="1.3 1"/><text x="418.7" y="92.8" class="lg">Day-7</text><circle cx="444.3" cy="90.6" r="0.75" fill="#0000ff"/><text x="452.1" y="92.8" class="lg">Day-8</text><path d="M471.8 90.6h11" stroke="#0000ff" stroke-width="1.6"/><text x="484.6" y="92.8" class="lg">elevation</text></g>
<g><clipPath id="c3"><rect x="34.9" y="137.6" width="117.9" height="93.2"/></clipPath><path d="M68.6 138.1V230.3M102.3 138.1V230.3M136.0 138.1V230.3M34.9 207.2H152.8M34.9 184.2H152.8M34.9 161.2H152.8" stroke="#e9e9e9" stroke-width="0.55" fill="none"/><g clip-path="url(#c3)"><path d="M68.3 188.4L68.8 191.9L69.3 190.6L69.8 190.5L70.3 188.6L70.8 190.6L71.3 187.1L71.8 184.7L72.3 184.0L72.8 184.7L73.3 189.8L73.8 191.9L74.3 186.5L74.8 189.5L75.3 185.5L75.8 184.6L76.3 185.5L76.8 185.6L77.3 191.4L77.8 192.9L78.3 190.0L78.8 192.0L79.3 193.2L79.8 185.2L80.3 185.2L80.8 185.4L81.3 180.4L81.8 178.0L82.3 182.4L82.8 186.2L83.3 184.6L83.8 187.8L84.3 184.5L84.8 184.7L85.3 184.2L85.8 179.9L86.3 181.9L86.8 186.0L87.3 186.2L87.8 188.0L88.3 189.7L88.8 190.8L89.3 193.8L89.8 188.8L90.3 188.3L90.8 184.2L91.3 180.9L91.8 181.0L92.3 185.7L92.8 186.2L93.3 189.6L93.8 192.6L94.3 191.8L94.8 191.7L95.3 186.5L95.8 188.5L96.3 185.4L96.8 185.5L97.3 185.6L97.8 183.8L98.3 183.7L98.8 179.6L99.3 181.3L99.8 182.9L100.3 185.0L100.8 183.8L101.3 183.8L101.8 190.2L102.3 184.9L102.8 182.1L103.3 180.0L103.8 179.7L104.3 182.4L104.8 179.1L105.3 181.9L105.8 182.4L106.3 175.8L106.8 175.7L107.3 182.9L107.8 182.3L108.3 187.3L108.8 179.7L109.3 177.2L109.8 168.3L110.3 166.9L110.8 168.0L111.3 172.2L111.8 176.2L112.3 176.1L112.8 175.0L113.3 168.7L113.8 163.4L114.3 164.4L114.8 166.5L115.3 168.8L115.8 165.5L116.3 163.9L116.8 161.6L117.3 157.3L117.8 147.7L118.3 148.1L118.8 148.5L119.3 148.6L119.8 149.6L120.3 167.3L120.8 191.3L121.3 180.8L121.8 175.7L122.3 178.4L122.8 176.3L123.3 179.8L123.8 179.5L124.3 188.1L124.8 190.5L125.3 168.0L125.8 164.8L126.3 167.8L126.8 170.1L127.3 170.5L127.8 172.6L128.3 180.7L128.8 189.8L129.3 172.7L129.8 172.0L130.3 171.6L130.8 163.5L131.3 161.3L131.8 161.2L132.3 169.1L132.8 178.8L133.3 185.3L133.8 184.9L134.3 175.2L134.8 170.8L135.3 160.6L135.8 159.0L136.3 164.1L136.8 179.3L137.3 175.1L137.8 193.2L138.3 194.8L138.8 170.1L139.3 161.9L139.8 162.2L140.3 171.4L140.8 182.6L141.3 180.4L141.8 191.0L142.3 191.5L142.8 180.7L143.3 173.4L143.8 174.2L144.3 170.7L144.8 173.7L145.3 185.1L145.8 182.1L146.3 175.5L146.8 163.1L147.3 147.5L147.3 171.8L146.8 190.3L146.3 192.3L145.8 203.5L145.3 207.5L144.8 197.4L144.3 184.3L143.8 183.7L143.3 194.4L142.8 197.0L142.3 204.3L141.8 205.8L141.3 205.8L140.8 195.9L140.3 190.3L139.8 185.7L139.3 177.9L138.8 205.1L138.3 209.8L137.8 211.5L137.3 205.5L136.8 198.9L136.3 185.3L135.8 177.8L135.3 181.1L134.8 189.4L134.3 194.2L133.8 197.5L133.3 205.3L132.8 201.9L132.3 188.7L131.8 175.3L131.3 177.4L130.8 179.6L130.3 191.0L129.8 190.1L129.3 198.3L128.8 205.6L128.3 201.0L127.8 191.5L127.3 185.7L126.8 186.6L126.3 186.1L125.8 179.2L125.3 195.5L124.8 206.9L124.3 206.8L123.8 200.0L123.3 195.0L122.8 192.3L122.3 192.3L121.8 189.7L121.3 195.7L120.8 206.1L120.3 206.1L119.8 161.3L119.3 159.6L118.8 158.1L118.3 158.6L117.8 158.0L117.3 167.9L116.8 170.7L116.3 175.5L115.8 176.9L115.3 177.9L114.8 178.9L114.3 175.0L113.8 179.3L113.3 182.8L112.8 186.7L112.3 190.1L111.8 188.4L111.3 183.6L110.8 181.8L110.3 179.0L109.8 185.8L109.3 191.8L108.8 196.8L108.3 201.0L107.8 197.0L107.3 193.8L106.8 189.6L106.3 190.6L105.8 195.3L105.3 199.3L104.8 194.0L104.3 197.1L103.8 190.2L103.3 191.9L102.8 194.3L102.3 194.2L101.8 200.7L101.3 195.5L100.8 191.1L100.3 192.9L99.8 194.3L99.3 191.4L98.8 188.8L98.3 190.8L97.8 190.0L97.3 195.8L96.8 196.3L96.3 194.5L95.8 196.5L95.3 200.3L94.8 200.9L94.3 201.2L93.8 200.2L93.3 196.9L92.8 195.8L92.3 196.0L91.8 189.7L91.3 189.9L90.8 193.5L90.3 194.5L89.8 197.4L89.3 201.1L88.8 200.3L88.3 199.6L87.8 195.7L87.3 195.3L86.8 195.9L86.3 192.2L85.8 189.8L85.3 191.0L84.8 193.1L84.3 193.8L83.8 194.5L83.3 196.9L82.8 194.6L82.3 192.2L81.8 189.0L81.3 192.8L80.8 194.5L80.3 194.1L79.8 198.1L79.3 201.6L78.8 199.2L78.3 200.7L77.8 201.8L77.3 201.9L76.8 198.0L76.3 192.4L75.8 191.0L75.3 194.7L74.8 199.1L74.3 198.9L73.8 201.1L73.3 200.4L72.8 195.3L72.3 191.4L71.8 194.8L71.3 197.4L70.8 201.4L70.3 200.7L69.8 198.5L69.3 199.3L68.8 199.8L68.3 195.9Z" fill="#ff0000" stroke="#ff0000" stroke-width="1.1" stroke-linejoin="round"/><path d="M120.1 147.3V207.2" stroke="#ff0000" stroke-width="1.2" stroke-dasharray="1.2 1" fill="none"/><path d="M65.8 188.9L66.3 189.0L66.8 192.2L67.3 191.0L67.8 188.8L68.3 189.4L68.8 189.3L69.3 185.5L69.8 184.1L70.3 186.7L70.8 191.1L71.3 193.0L71.8 189.5L72.3 192.1L72.8 187.2L73.3 184.1L73.8 183.9L74.3 188.4L74.8 192.3L75.3 192.0L75.8 191.1L76.3 192.2L76.8 193.1L77.3 185.9L77.8 186.0L78.3 184.2L78.8 181.6L79.3 180.7L79.8 183.3L80.3 185.7L80.8 187.9L81.3 186.7L81.8 183.9L82.3 183.3L82.8 186.2L83.3 181.8L83.8 184.1L84.3 184.6L84.8 186.5L85.3 186.8L85.8 189.6L86.3 192.0L86.8 192.0L87.3 189.0L87.8 189.0L88.3 184.6L88.8 181.9L89.3 182.2L89.8 184.8L90.3 186.2L90.8 190.1L91.3 190.6L91.8 193.5L92.3 192.8L92.8 189.0L93.3 186.8L93.8 186.1L94.3 184.0L94.8 185.5L95.3 183.9L95.8 184.6L96.3 180.7L96.8 178.9L97.3 183.8L97.8 184.7L98.3 183.9L98.8 186.8L99.3 191.5L99.8 181.4L100.3 181.1L100.8 179.4L101.3 178.6L101.8 182.5L102.3 180.8L102.8 181.9L103.3 185.3L103.8 178.3L104.3 175.1L104.8 180.0L105.3 183.5L105.8 184.3L106.3 183.0L106.8 178.5L107.3 167.4L107.8 167.9L108.3 170.1L108.8 170.6L109.3 176.8L109.8 178.7L110.3 174.5L110.8 168.2L111.3 164.7L111.8 164.8L112.3 166.3L112.8 168.9L113.3 165.7L113.8 162.8L114.3 162.7L114.8 157.1L115.3 149.0L115.8 148.7L116.3 148.6L116.8 149.1L117.3 149.9L117.8 163.8L118.3 194.6L118.8 182.0L119.3 177.1L119.8 180.5L120.3 177.6L120.8 183.3L121.3 181.5L121.8 190.6L122.3 189.2L122.8 172.0L123.3 168.0L123.8 171.3L124.3 171.8L124.8 174.5L125.3 176.9L125.8 179.6L126.3 189.0L126.8 174.0L127.3 172.8L127.8 172.8L128.3 165.5L128.8 162.2L129.3 160.7L129.8 172.6L130.3 183.8L130.8 187.4L131.3 180.9L131.8 181.8L132.3 172.7L132.8 162.3L133.3 162.8L133.8 166.4L134.3 182.2L134.8 178.8L135.3 191.2L135.8 195.9L136.3 170.5L136.8 164.9L137.3 164.9L137.8 178.5L138.3 179.4L138.8 186.4L139.3 194.0L139.8 188.6L140.3 180.7L140.8 174.7L141.3 171.9L141.8 173.4L142.3 177.9L142.8 188.8L143.3 182.4L143.8 175.5L144.3 161.6L144.8 149.8L145.3 145.6L145.8 150.7L146.3 172.5L146.8 180.2L147.3 191.6L147.3 212.1L146.8 204.1L146.3 198.8L145.8 179.4L145.3 158.0L144.8 170.3L144.3 185.0L143.8 194.4L143.3 198.6L142.8 203.6L142.3 197.5L141.8 185.7L141.3 185.2L140.8 191.8L140.3 197.5L139.8 205.6L139.3 205.6L138.8 204.4L138.3 193.5L137.8 190.9L137.3 182.3L136.8 179.8L136.3 200.4L135.8 206.8L135.3 207.4L134.8 202.8L134.3 195.3L133.8 188.7L133.3 178.4L132.8 179.6L132.3 188.9L131.8 195.5L131.3 197.3L130.8 201.9L130.3 198.3L129.8 191.7L129.3 179.2L128.8 178.3L128.3 181.5L127.8 186.8L127.3 192.1L126.8 194.0L126.3 202.6L125.8 197.1L125.3 188.2L124.8 186.6L124.3 187.3L123.8 184.9L123.3 178.7L122.8 199.1L122.3 201.8L121.8 200.3L121.3 195.6L120.8 192.5L120.3 191.2L119.8 192.2L119.3 191.6L118.8 198.9L118.3 206.9L117.8 204.3L117.3 161.6L116.8 154.1L116.3 157.1L115.8 155.7L115.3 162.9L114.8 166.6L114.3 171.1L113.8 174.3L113.3 174.9L112.8 179.5L112.3 177.7L111.8 176.1L111.3 177.2L110.8 183.8L110.3 186.3L109.8 190.4L109.3 188.4L108.8 186.5L108.3 179.9L107.8 179.8L107.3 188.0L106.8 190.7L106.3 196.4L105.8 197.5L105.3 198.3L104.8 194.4L104.3 189.9L103.8 192.0L103.3 194.6L102.8 194.9L102.3 190.9L101.8 194.8L101.3 191.7L100.8 194.8L100.3 192.5L99.8 194.8L99.3 199.5L98.8 194.3L98.3 191.8L97.8 192.3L97.3 191.0L96.8 189.7L96.3 187.7L95.8 191.6L95.3 192.6L94.8 195.0L94.3 195.5L93.8 193.3L93.3 196.6L92.8 197.2L92.3 200.1L91.8 200.0L91.3 198.0L90.8 197.1L90.3 196.4L89.8 194.3L89.3 188.6L88.8 190.2L88.3 191.7L87.8 195.1L87.3 198.1L86.8 200.0L86.3 200.0L85.8 198.2L85.3 194.0L84.8 195.1L84.3 194.1L83.8 190.6L83.3 190.0L82.8 193.4L82.3 193.3L81.8 194.6L81.3 193.9L80.8 196.7L80.3 195.0L79.8 193.5L79.3 188.0L78.8 192.0L78.3 194.2L77.8 195.2L77.3 197.0L76.8 200.3L76.3 201.3L75.8 199.5L75.3 199.1L74.8 199.0L74.3 196.3L73.8 192.4L73.3 192.1L72.8 195.6L72.3 197.8L71.8 198.7L71.3 200.1L70.8 200.0L70.3 195.2L69.8 192.5L69.3 195.5L68.8 196.6L68.3 198.8L67.8 200.1L67.3 197.9L66.8 200.0L66.3 197.1L65.8 195.5Z" fill="#0000ff" stroke="#0000ff" stroke-width="1.2" stroke-linejoin="round"/><polyline points="34.9,157.7 36.3,156.9 37.7,156.1 39.2,155.4 40.6,154.7 42.0,154.0 43.4,153.5 44.9,152.9 46.3,152.4 47.7,152.0 49.1,151.6 50.6,151.2 52.0,150.9 53.4,150.7 54.8,150.5 56.3,150.3 57.7,150.2 59.1,150.2 60.5,150.2 62.0,150.3 63.4,150.4 64.8,150.6 66.2,150.8 67.7,151.1 69.1,151.4 70.5,151.7 71.9,152.2 73.4,152.6 74.8,153.2 76.2,153.7 77.6,154.3 79.0,155.0 80.5,155.7 81.9,156.5 83.3,157.2 84.7,158.1 86.2,159.0 87.6,159.9 89.0,160.8 90.4,161.8 91.9,162.8 93.3,163.9 94.7,165.0 96.1,166.1 97.6,167.3 99.0,168.4 100.4,169.6 101.8,170.9 103.3,172.1 104.7,173.4 106.1,174.7 107.5,176.0 109.0,177.3 110.4,178.6 111.8,180.0 113.2,181.3 114.7,182.7 116.1,184.0 117.5,185.4 118.9,186.8 120.4,188.1 121.8,189.5 123.2,190.9 124.6,192.2 126.0,193.6 127.5,194.9 128.9,196.2 130.3,197.5 131.7,198.8 133.2,200.1 134.6,201.3 136.0,202.6 137.4,203.8 138.9,205.0 140.3,206.1 141.7,207.2 143.1,208.3 144.6,209.4 146.0,210.4 147.4,211.4" fill="none" stroke="#0000ff" stroke-width="1.15"/></g><path d="M34.9 138.1H152.8M34.9 230.3H152.8M152.8 138.1V230.3" stroke="#8c8c8c" stroke-width="0.8" fill="none"/><path d="M34.9 138.1V230.3" stroke="#9c9cff" stroke-width="1" fill="none"/><path d="M34.9 230.3v-1.2M34.9 138.1v1.2M68.6 230.3v-1.2M68.6 138.1v1.2M102.3 230.3v-1.2M102.3 138.1v1.2M136.0 230.3v-1.2M136.0 138.1v1.2M152.8 230.3h-1.2M152.8 207.2h-1.2M152.8 184.2h-1.2M152.8 161.2h-1.2M152.8 138.1h-1.2" stroke="#404040" stroke-width="0.6" fill="none"/><path d="M34.9 230.3h1.2M34.9 207.2h1.2M34.9 184.2h1.2M34.9 161.2h1.2M34.9 138.1h1.2" stroke="#0000ff" stroke-width="0.6" fill="none"/><text x="35.3" y="243.4" text-anchor="middle" class="tk">0</text><text x="69.0" y="243.4" text-anchor="middle" class="tk">1</text><text x="102.7" y="243.4" text-anchor="middle" class="tk">2</text><text x="136.4" y="243.4" text-anchor="middle" class="tk">3</text><text x="32.1" y="234.0" text-anchor="end" class="tk bl">-20</text><text x="32.1" y="210.9" text-anchor="end" class="tk bl">-10</text><text x="32.1" y="187.9" text-anchor="end" class="tk bl">0</text><text x="32.1" y="164.8" text-anchor="end" class="tk bl">10</text><text x="32.1" y="141.8" text-anchor="end" class="tk bl">20</text><text x="156.4" y="234.2" class="tk">0</text><text x="156.4" y="211.2" class="tk">20</text><text x="156.4" y="188.1" class="tk">40</text><text x="156.4" y="165.1" class="tk">60</text><text x="156.4" y="142.0" class="tk">80</text><text x="94.3" y="257.6" text-anchor="middle" class="lb">Time [hour]</text><text transform="translate(13.7 184.3) rotate(-90)" text-anchor="middle" class="lb bl">Residual [mm]</text><text transform="translate(177.9 183.8) rotate(-90)" text-anchor="middle" class="lb">Elevation [deg]</text><rect x="40.0" y="216.1" width="108" height="8.8" fill="#fff" stroke="#555" stroke-width="0.5"/><path d="M41.2 220.5h12" stroke="#ff0000" stroke-width="1.6" stroke-dasharray="1.3 1"/><text x="54.8" y="222.7" class="lg">Day-5</text><circle cx="80.4" cy="220.5" r="0.75" fill="#0000ff"/><text x="88.2" y="222.7" class="lg">Day-6</text><path d="M107.9 220.5h11" stroke="#0000ff" stroke-width="1.6"/><text x="120.7" y="222.7" class="lg">elevation</text></g>
<g><clipPath id="c4"><rect x="217.0" y="137.3" width="117.7" height="93.1"/></clipPath><path d="M250.6 137.8V229.9M284.3 137.8V229.9M317.9 137.8V229.9M217.0 206.9H334.7M217.0 183.9H334.7M217.0 160.8H334.7" stroke="#e9e9e9" stroke-width="0.55" fill="none"/><g clip-path="url(#c4)"><path d="M247.9 188.0L248.4 188.1L248.9 191.6L249.4 190.3L249.9 188.0L250.4 188.5L250.9 188.4L251.4 184.1L251.9 182.8L252.4 185.5L252.9 190.4L253.4 190.6L253.9 188.6L254.4 191.4L254.9 186.2L255.4 182.6L255.9 181.9L256.4 188.0L256.9 191.9L257.4 191.6L257.9 192.4L258.4 191.8L258.9 192.8L259.4 185.4L259.9 185.9L260.4 184.3L260.9 180.4L261.4 179.8L261.9 182.1L262.4 186.2L262.9 187.8L263.4 186.3L263.9 183.6L264.4 182.7L264.9 185.8L265.4 180.5L265.9 184.3L266.4 185.5L266.9 185.9L267.4 186.7L267.9 190.4L268.4 191.9L268.9 192.2L269.4 188.0L269.9 187.7L270.4 183.0L270.9 180.3L271.4 181.0L271.9 185.0L272.4 185.3L272.9 188.8L273.4 190.2L273.9 194.1L274.4 191.1L274.9 187.1L275.4 187.1L275.9 185.0L276.4 185.4L276.9 184.3L277.4 181.8L277.9 182.4L278.4 179.2L278.9 183.2L279.4 182.6L279.9 183.9L280.4 182.5L280.9 187.0L281.4 191.3L281.9 181.3L282.4 180.6L282.9 178.5L283.4 179.2L283.9 178.9L284.4 180.6L284.9 182.0L285.4 179.6L285.9 175.1L286.4 173.8L286.9 178.7L287.4 183.5L287.9 184.5L288.4 181.6L288.9 177.2L289.4 168.1L289.9 164.3L290.4 168.9L290.9 170.4L291.4 176.1L291.9 178.9L292.4 173.9L292.9 166.1L293.4 163.2L293.9 164.4L294.4 166.6L294.9 167.1L295.4 164.9L295.9 160.3L296.4 162.8L296.9 155.0L297.4 148.9L297.9 148.0L298.4 147.3L298.9 147.5L299.4 149.3L299.9 175.7L300.4 192.5L300.9 179.4L301.4 176.2L301.9 180.1L302.4 175.8L302.9 180.7L303.4 183.9L303.9 190.0L304.4 185.7L304.9 168.1L305.4 166.7L305.9 169.1L306.4 170.2L306.9 170.6L307.4 174.5L307.9 180.5L308.4 184.4L308.9 174.2L309.4 173.4L309.9 168.8L310.4 163.5L310.9 157.8L311.4 158.1L311.9 177.4L312.4 186.3L312.9 185.2L313.4 182.3L313.9 177.7L314.4 163.8L314.9 162.2L315.4 156.5L315.9 168.4L316.4 177.8L316.9 179.8L317.4 192.6L317.9 193.6L318.4 163.6L318.9 163.3L319.4 166.0L319.9 176.8L320.4 180.3L320.9 188.3L321.4 191.7L321.9 186.7L322.4 182.2L322.9 172.5L323.4 169.9L323.9 171.0L324.4 180.3L324.9 192.9L325.4 181.4L325.9 174.6L326.4 160.0L326.9 144.0L327.4 144.0L327.9 155.9L328.4 171.6L328.9 183.6L329.4 197.6L329.4 213.9L328.9 213.2L328.4 198.7L327.9 190.3L327.4 159.8L326.9 164.0L326.4 182.7L325.9 193.4L325.4 196.7L324.9 206.3L324.4 197.2L323.9 184.2L323.4 181.5L322.9 188.6L322.4 196.8L321.9 204.5L321.4 208.8L320.9 208.6L320.4 195.9L319.9 190.8L319.4 184.3L318.9 177.3L318.4 200.0L317.9 209.7L317.4 211.1L316.9 209.2L316.4 195.5L315.9 195.0L315.4 178.4L314.9 176.2L314.4 186.5L313.9 192.6L313.4 197.1L312.9 199.4L312.4 200.7L311.9 193.8L311.4 183.5L310.9 173.9L310.4 177.3L309.9 187.3L309.4 191.1L308.9 192.6L308.4 201.1L307.9 202.8L307.4 191.3L306.9 187.2L306.4 187.0L305.9 185.3L305.4 180.2L304.9 197.5L304.4 204.1L303.9 200.5L303.4 200.5L302.9 193.4L302.4 192.5L301.9 193.3L301.4 190.3L300.9 195.1L300.4 208.4L299.9 205.0L299.4 174.0L298.9 155.4L298.4 156.7L297.9 156.7L297.4 161.9L296.9 165.8L296.4 170.0L295.9 172.5L295.4 175.0L294.9 179.3L294.4 178.6L293.9 175.8L293.4 178.4L292.9 183.1L292.4 186.4L291.9 188.5L291.4 190.6L290.9 186.2L290.4 180.3L289.9 179.7L289.4 185.0L288.9 189.8L288.4 195.8L287.9 198.8L287.4 198.3L286.9 193.1L286.4 190.4L285.9 192.0L285.4 195.0L284.9 198.8L284.4 191.7L283.9 194.7L283.4 193.9L282.9 195.8L282.4 192.4L281.9 195.3L281.4 199.7L280.9 194.4L280.4 192.6L279.9 192.3L279.4 192.4L278.9 190.1L278.4 191.0L277.9 190.6L277.4 192.5L276.9 195.7L276.4 194.9L275.9 194.3L275.4 196.2L274.9 197.9L274.4 200.7L273.9 200.8L273.4 199.2L272.9 197.4L272.4 196.1L271.9 194.5L271.4 187.6L270.9 188.8L270.4 191.3L269.9 196.6L269.4 198.6L268.9 200.8L268.4 200.5L267.9 199.0L267.4 194.7L266.9 195.2L266.4 193.5L265.9 190.1L265.4 190.5L264.9 193.6L264.4 195.0L263.9 193.9L263.4 195.5L262.9 197.6L262.4 196.2L261.9 195.4L261.4 188.0L260.9 191.7L260.4 193.9L259.9 195.3L259.4 196.7L258.9 200.1L258.4 201.8L257.9 203.6L257.4 199.6L256.9 199.3L256.4 196.2L255.9 191.7L255.4 191.9L254.9 194.7L254.4 198.0L253.9 199.2L253.4 200.4L252.9 200.5L252.4 195.3L251.9 191.9L251.4 196.0L250.9 196.6L250.4 198.7L249.9 200.5L249.4 198.2L248.9 200.3L248.4 197.2L247.9 195.3Z" fill="#ff0000" stroke="#ff0000" stroke-width="1.1" stroke-linejoin="round"/><path d="M299.6 147.0V206.9" stroke="#ff0000" stroke-width="1.2" stroke-dasharray="1.2 1" fill="none"/><path d="M245.3 189.4L245.8 188.7L246.3 190.5L246.8 190.8L247.3 189.5L247.8 190.1L248.3 187.3L248.8 185.4L249.3 183.8L249.8 185.4L250.3 189.9L250.8 193.1L251.3 189.6L251.8 189.2L252.3 186.0L252.8 184.1L253.3 185.6L253.8 186.7L254.3 190.3L254.8 192.0L255.3 191.5L255.8 191.7L256.3 192.7L256.8 186.9L257.3 185.5L257.8 184.1L258.3 180.0L258.8 181.2L259.3 182.3L259.8 185.4L260.3 187.1L260.8 184.1L261.3 184.4L261.8 183.3L262.3 184.8L262.8 181.2L263.3 181.0L263.8 184.4L264.3 186.6L264.8 188.0L265.3 192.0L265.8 192.0L266.3 192.1L266.8 188.4L267.3 187.5L267.8 186.2L268.3 181.5L268.8 181.2L269.3 186.0L269.8 187.1L270.3 189.8L270.8 189.9L271.3 194.7L271.8 191.9L272.3 185.6L272.8 189.4L273.3 185.8L273.8 186.7L274.3 184.9L274.8 183.8L275.3 182.6L275.8 180.4L276.3 181.8L276.8 184.0L277.3 184.3L277.8 183.5L278.3 184.0L278.8 189.6L279.3 181.9L279.8 182.6L280.3 178.5L280.8 179.3L281.3 179.2L281.8 179.6L282.3 180.9L282.8 182.5L283.3 175.8L283.8 175.1L284.3 181.4L284.8 182.7L285.3 182.0L285.8 180.0L286.3 179.4L286.8 169.3L287.3 165.9L287.8 169.5L288.3 172.6L288.8 175.6L289.3 175.2L289.8 175.3L290.3 167.5L290.8 167.2L291.3 164.7L291.8 166.1L292.3 167.8L292.8 166.3L293.3 161.5L293.8 162.9L294.3 154.8L294.8 149.8L295.3 147.9L295.8 148.3L296.3 148.1L296.8 150.0L297.3 183.0L297.8 190.4L298.3 180.9L298.8 176.1L299.3 178.0L299.8 177.9L300.3 179.9L300.8 182.4L301.3 189.7L301.8 187.3L302.3 168.4L302.8 167.5L303.3 171.7L303.8 172.4L304.3 175.0L304.8 175.9L305.3 187.4L305.8 182.9L306.3 177.9L306.8 173.2L307.3 168.6L307.8 168.8L308.3 162.1L308.8 162.7L309.3 172.3L309.8 183.9L310.3 182.7L310.8 182.6L311.3 174.9L311.8 173.3L312.3 164.2L312.8 161.5L313.3 166.5L313.8 176.7L314.3 181.9L314.8 193.7L315.3 189.7L315.8 170.9L316.3 164.5L316.8 169.3L317.3 173.3L317.8 178.6L318.3 186.0L318.8 192.1L319.3 187.7L319.8 180.2L320.3 173.8L320.8 172.2L321.3 171.4L321.8 178.9L322.3 187.5L322.8 180.6L323.3 174.8L323.8 161.6L324.3 144.0L324.8 145.1L325.3 164.2L325.8 170.7L326.3 185.2L326.8 194.8L327.3 170.3L327.8 170.3L328.3 178.9L328.8 182.2L329.3 193.1L329.3 203.2L328.8 198.2L328.3 193.2L327.8 185.8L327.3 201.0L326.8 211.5L326.3 209.0L325.8 197.7L325.3 189.9L324.8 157.0L324.3 162.4L323.8 185.4L323.3 191.0L322.8 197.6L322.3 203.6L321.8 196.8L321.3 185.8L320.8 186.6L320.3 188.3L319.8 195.4L319.3 203.9L318.8 202.8L318.3 203.6L317.8 192.9L317.3 194.6L316.8 183.9L316.3 178.7L315.8 197.8L315.3 210.0L314.8 209.0L314.3 206.2L313.8 197.7L313.3 191.3L312.8 176.4L312.3 177.4L311.8 186.8L311.3 196.7L310.8 197.9L310.3 199.4L309.8 195.4L309.3 192.1L308.8 178.2L308.3 177.7L307.8 178.5L307.3 187.3L306.8 187.5L306.3 193.3L305.8 202.2L305.3 202.8L304.8 186.7L304.3 186.9L303.8 187.1L303.3 182.3L302.8 179.9L302.3 197.4L301.8 200.3L301.3 202.9L300.8 199.5L300.3 192.8L299.8 193.8L299.3 192.2L298.8 189.3L298.3 198.4L297.8 204.5L297.3 206.0L296.8 174.5L296.3 154.3L295.8 156.8L295.3 155.9L294.8 158.6L294.3 165.7L293.8 168.0L293.3 171.1L292.8 173.9L292.3 177.5L291.8 178.6L291.3 174.8L290.8 176.8L290.3 180.1L289.8 184.7L289.3 189.7L288.8 186.3L288.3 185.4L287.8 182.5L287.3 179.4L286.8 183.7L286.3 187.1L285.8 196.6L285.3 199.3L284.8 197.1L284.3 193.0L283.8 186.9L283.3 191.6L282.8 194.4L282.3 196.2L281.8 189.6L281.3 194.8L280.8 193.3L280.3 193.2L279.8 193.1L279.3 193.3L278.8 199.0L278.3 196.1L277.8 191.6L277.3 194.3L276.8 191.5L276.3 190.7L275.8 189.3L275.3 191.2L274.8 191.3L274.3 194.6L273.8 196.3L273.3 194.2L272.8 195.1L272.3 196.9L271.8 199.7L271.3 198.7L270.8 198.9L270.3 197.9L269.8 196.2L269.3 194.2L268.8 189.7L268.3 189.4L267.8 191.8L267.3 195.6L266.8 198.7L266.3 199.7L265.8 199.0L265.3 198.0L264.8 193.2L264.3 195.2L263.8 194.5L263.3 189.8L262.8 189.9L262.3 193.3L261.8 191.3L261.3 193.9L260.8 193.2L260.3 195.7L259.8 194.6L259.3 194.8L258.8 187.4L258.3 190.9L257.8 192.3L257.3 192.6L256.8 197.2L256.3 198.7L255.8 200.1L255.3 198.7L254.8 199.3L254.3 199.2L253.8 196.6L253.3 193.3L252.8 192.7L252.3 195.9L251.8 198.2L251.3 197.9L250.8 199.4L250.3 198.2L249.8 194.4L249.3 191.7L248.8 196.0L248.3 196.1L247.8 198.7L247.3 197.6L246.8 199.7L246.3 198.2L245.8 199.3L245.3 193.6Z" fill="#0000ff" stroke="#0000ff" stroke-width="1.2" stroke-linejoin="round"/><polyline points="217.0,156.0 218.4,155.3 219.8,154.6 221.3,153.9 222.7,153.3 224.1,152.8 225.5,152.3 227.0,151.8 228.4,151.4 229.8,151.0 231.2,150.7 232.6,150.4 234.1,150.2 235.5,150.1 236.9,150.0 238.3,149.9 239.7,149.9 241.2,149.9 242.6,150.0 244.0,150.2 245.4,150.4 246.9,150.6 248.3,150.9 249.7,151.3 251.1,151.7 252.5,152.2 254.0,152.7 255.4,153.2 256.8,153.8 258.2,154.4 259.7,155.1 261.1,155.9 262.5,156.6 263.9,157.5 265.3,158.3 266.8,159.2 268.2,160.2 269.6,161.1 271.0,162.2 272.4,163.2 273.9,164.3 275.3,165.4 276.7,166.5 278.1,167.7 279.6,168.9 281.0,170.1 282.4,171.3 283.8,172.6 285.2,173.9 286.7,175.2 288.1,176.5 289.5,177.8 290.9,179.2 292.4,180.5 293.8,181.9 295.2,183.2 296.6,184.6 298.0,186.0 299.5,187.3 300.9,188.7 302.3,190.0 303.7,191.4 305.1,192.7 306.6,194.1 308.0,195.4 309.4,196.7 310.8,198.0 312.3,199.3 313.7,200.5 315.1,201.8 316.5,203.0 317.9,204.2 319.4,205.3 320.8,206.5 322.2,207.6 323.6,208.6 325.1,209.7 326.5,210.7 327.9,211.7 329.3,212.6" fill="none" stroke="#0000ff" stroke-width="1.15"/></g><path d="M217.0 137.8H334.7M217.0 229.9H334.7M334.7 137.8V229.9" stroke="#8c8c8c" stroke-width="0.8" fill="none"/><path d="M217.0 137.8V229.9" stroke="#9c9cff" stroke-width="1" fill="none"/><path d="M217.0 229.9v-1.2M217.0 137.8v1.2M250.6 229.9v-1.2M250.6 137.8v1.2M284.3 229.9v-1.2M284.3 137.8v1.2M317.9 229.9v-1.2M317.9 137.8v1.2M334.7 229.9h-1.2M334.7 206.9h-1.2M334.7 183.9h-1.2M334.7 160.8h-1.2M334.7 137.8h-1.2" stroke="#404040" stroke-width="0.6" fill="none"/><path d="M217.0 229.9h1.2M217.0 206.9h1.2M217.0 183.9h1.2M217.0 160.8h1.2M217.0 137.8h1.2" stroke="#0000ff" stroke-width="0.6" fill="none"/><text x="217.4" y="243.0" text-anchor="middle" class="tk">0</text><text x="251.0" y="243.0" text-anchor="middle" class="tk">1</text><text x="284.7" y="243.0" text-anchor="middle" class="tk">2</text><text x="318.3" y="243.0" text-anchor="middle" class="tk">3</text><text x="214.2" y="233.6" text-anchor="end" class="tk bl">-20</text><text x="214.2" y="210.6" text-anchor="end" class="tk bl">-10</text><text x="214.2" y="187.6" text-anchor="end" class="tk bl">0</text><text x="214.2" y="164.5" text-anchor="end" class="tk bl">10</text><text x="214.2" y="141.5" text-anchor="end" class="tk bl">20</text><text x="338.3" y="233.8" class="tk">0</text><text x="338.3" y="210.8" class="tk">20</text><text x="338.3" y="187.8" class="tk">40</text><text x="338.3" y="164.7" class="tk">60</text><text x="338.3" y="141.7" class="tk">80</text><text x="276.2" y="257.2" text-anchor="middle" class="lb">Time [hour]</text><text transform="translate(195.8 184.0) rotate(-90)" text-anchor="middle" class="lb bl">Residual [mm]</text><text transform="translate(359.8 183.5) rotate(-90)" text-anchor="middle" class="lb">Elevation [deg]</text><rect x="222.1" y="215.7" width="108" height="8.8" fill="#fff" stroke="#555" stroke-width="0.5"/><path d="M223.3 220.1h12" stroke="#ff0000" stroke-width="1.6" stroke-dasharray="1.3 1"/><text x="236.9" y="222.3" class="lg">Day-6</text><circle cx="262.5" cy="220.1" r="0.75" fill="#0000ff"/><text x="270.3" y="222.3" class="lg">Day-7</text><path d="M290.0 220.1h11" stroke="#0000ff" stroke-width="1.6"/><text x="302.8" y="222.3" class="lg">elevation</text></g>
<g><clipPath id="c5"><rect x="398.8" y="137.2" width="117.7" height="93.1"/></clipPath><path d="M432.4 137.7V229.8M466.1 137.7V229.8M499.7 137.7V229.8M398.8 206.8H516.5M398.8 183.8H516.5M398.8 160.7H516.5" stroke="#e9e9e9" stroke-width="0.55" fill="none"/><g clip-path="url(#c5)"><path d="M427.1 188.8L427.6 188.1L428.1 190.0L428.6 190.4L429.1 188.9L429.6 189.6L430.1 186.5L430.6 184.4L431.1 182.6L431.6 184.4L432.1 189.4L432.6 193.0L433.1 189.1L433.6 188.6L434.1 185.1L434.6 182.9L435.1 184.6L435.6 185.8L436.1 189.9L436.6 191.8L437.1 191.3L437.6 191.4L438.1 192.6L438.6 186.4L439.1 184.9L439.6 183.6L440.1 179.2L440.6 180.6L441.1 182.0L441.6 185.2L442.1 187.1L442.6 183.8L443.1 184.1L443.6 182.9L444.1 184.6L444.6 180.5L445.1 180.2L445.6 184.0L446.1 186.3L446.6 187.7L447.1 192.1L447.6 192.1L448.1 192.2L448.6 188.1L449.1 187.1L449.6 185.6L450.1 180.3L450.6 180.0L451.1 185.4L451.6 186.6L452.1 189.7L452.6 189.9L453.1 195.2L453.6 192.0L454.1 184.9L454.6 189.2L455.1 185.1L455.6 186.2L456.1 184.2L456.6 182.9L457.1 181.6L457.6 179.1L458.1 180.7L458.6 183.2L459.1 183.5L459.6 182.7L460.1 183.2L460.6 189.7L461.1 181.4L461.6 182.3L462.1 177.8L462.6 178.7L463.1 178.6L463.6 179.1L464.1 180.5L464.6 182.2L465.1 174.7L465.6 173.9L466.1 180.9L466.6 182.5L467.1 181.7L467.6 179.6L468.1 179.0L468.6 167.9L469.1 164.1L469.6 168.2L470.1 171.9L470.6 175.3L471.1 175.0L471.6 175.1L472.1 166.4L472.6 166.1L473.1 163.4L473.6 165.0L474.1 167.4L474.6 165.8L475.1 160.8L475.6 162.9L476.1 154.5L476.6 149.1L477.1 147.1L477.6 147.6L478.1 147.4L478.6 149.6L479.1 183.3L479.6 189.7L480.1 179.1L480.6 174.1L481.1 176.5L481.6 176.5L482.1 179.1L482.6 181.9L483.1 190.1L483.6 187.4L484.1 166.0L484.6 165.4L485.1 170.1L485.6 170.9L486.1 173.9L486.6 174.9L487.1 187.8L487.6 182.8L488.1 177.2L488.6 172.0L489.1 166.9L489.6 167.1L490.1 159.6L490.6 160.1L491.1 171.3L491.6 184.0L492.1 182.6L492.6 182.5L493.1 173.8L493.6 171.9L494.1 161.8L494.6 158.6L495.1 164.1L495.6 175.5L496.1 181.3L496.6 194.4L497.1 189.9L497.6 168.8L498.1 161.7L498.6 167.0L499.1 171.5L499.6 177.4L500.1 185.8L500.6 192.6L501.1 187.6L501.6 179.2L502.1 172.1L502.6 170.3L503.1 169.4L503.6 177.8L504.1 187.9L504.6 180.6L505.1 174.6L505.6 161.2L506.1 143.9L506.6 143.9L507.1 164.0L507.6 170.5L508.1 185.7L508.6 194.9L509.1 167.6L509.6 167.6L510.1 177.2L510.6 180.9L511.1 193.1L511.1 204.4L510.6 198.8L510.1 193.2L509.6 184.9L509.1 202.0L508.6 213.6L508.1 211.1L507.6 200.1L507.1 192.2L506.6 156.2L506.1 162.2L505.6 186.9L505.1 192.6L504.6 199.5L504.1 205.8L503.6 197.9L503.1 185.5L502.6 186.3L502.1 188.4L501.6 196.3L501.1 205.8L500.6 204.6L500.1 205.5L499.6 193.5L499.1 195.4L498.6 183.4L498.1 177.6L497.6 199.0L497.1 212.7L496.6 211.6L496.1 208.5L495.6 199.1L495.1 191.9L494.6 175.4L494.1 176.5L493.6 187.1L493.1 198.2L492.6 199.7L492.1 201.3L491.6 196.8L491.1 193.2L490.6 177.5L490.1 177.0L489.6 177.8L489.1 187.8L488.6 188.0L488.1 194.5L487.6 204.4L487.1 205.1L486.6 187.0L486.1 187.2L485.6 187.4L485.1 182.0L484.6 179.2L484.1 198.6L483.6 201.9L483.1 204.9L482.6 201.0L482.1 193.4L481.6 194.5L481.1 192.0L480.6 188.7L480.1 198.7L479.6 205.5L479.1 207.1L478.6 174.3L478.1 154.4L477.6 157.1L477.1 156.0L476.6 158.8L476.1 166.2L475.6 168.3L475.1 171.6L474.6 174.4L474.1 178.1L473.6 179.0L473.1 174.7L472.6 176.9L472.1 180.5L471.6 185.6L471.1 191.1L470.6 187.2L470.1 186.3L469.6 182.9L469.1 179.3L468.6 183.9L468.1 187.7L467.6 198.1L467.1 201.1L466.6 198.5L466.1 193.9L465.6 187.1L465.1 192.4L464.6 195.6L464.1 197.6L463.6 190.3L463.1 196.1L462.6 194.4L462.1 194.3L461.6 194.2L461.1 194.0L460.6 200.2L460.1 196.7L459.6 191.7L459.1 194.4L458.6 191.6L458.1 190.6L457.6 189.2L457.1 191.2L456.6 191.3L456.1 195.1L455.6 197.0L455.1 194.6L454.6 195.6L454.1 197.6L453.6 200.7L453.1 199.6L452.6 199.8L452.1 198.7L451.6 196.8L451.1 194.6L450.6 189.6L450.1 189.2L449.6 191.9L449.1 196.2L448.6 199.6L448.1 200.7L447.6 200.0L447.1 198.8L446.6 193.4L446.1 196.0L445.6 195.2L445.1 190.0L444.6 190.2L444.1 194.1L443.6 191.9L443.1 194.8L442.6 193.9L442.1 196.8L441.6 195.6L441.1 195.8L440.6 187.5L440.1 191.4L439.6 192.9L439.1 192.8L438.6 197.7L438.1 199.3L437.6 200.8L437.1 199.3L436.6 200.0L436.1 199.8L435.6 197.0L435.1 193.1L434.6 192.5L434.1 196.1L433.6 198.7L433.1 198.4L432.6 200.0L432.1 198.7L431.6 194.4L431.1 191.4L430.6 196.2L430.1 196.4L429.6 199.3L429.1 198.0L428.6 200.4L428.1 198.7L427.6 199.9L427.1 193.6Z" fill="#ff0000" stroke="#ff0000" stroke-width="1.1" stroke-linejoin="round"/><path d="M478.8 146.9V206.8" stroke="#ff0000" stroke-width="1.2" stroke-dasharray="1.2 1" fill="none"/><path d="M424.6 187.8L425.1 189.2L425.6 192.6L426.1 189.5L426.6 188.5L427.1 188.5L427.6 189.8L428.1 185.5L428.6 184.4L429.1 186.3L429.6 189.9L430.1 193.3L430.6 190.0L431.1 190.5L431.6 187.0L432.1 183.6L432.6 184.5L433.1 186.3L433.6 190.6L434.1 192.0L434.6 190.1L435.1 192.0L435.6 193.4L436.1 186.9L436.6 185.6L437.1 183.4L437.6 181.1L438.1 179.0L438.6 182.7L439.1 185.6L439.6 185.5L440.1 185.8L440.6 184.9L441.1 182.9L441.6 184.1L442.1 179.7L442.6 181.9L443.1 185.2L443.6 186.4L444.1 187.1L444.6 189.4L445.1 191.9L445.6 194.2L446.1 188.2L446.6 188.3L447.1 185.2L447.6 181.3L448.1 180.8L448.6 185.1L449.1 186.6L449.6 190.9L450.1 191.0L450.6 195.4L451.1 192.0L451.6 188.9L452.1 186.9L452.6 184.2L453.1 187.3L453.6 184.7L454.1 183.2L454.6 183.4L455.1 181.9L455.6 181.3L456.1 184.2L456.6 184.8L457.1 184.1L457.6 184.4L458.1 187.5L458.6 182.8L459.1 182.9L459.6 179.1L460.1 177.8L460.6 181.7L461.1 179.1L461.6 181.8L462.1 183.7L462.6 174.8L463.1 176.8L463.6 181.1L464.1 182.3L464.6 182.8L465.1 180.9L465.6 176.1L466.1 166.9L466.6 168.6L467.1 168.4L467.6 171.7L468.1 176.5L468.6 175.3L469.1 175.8L469.6 168.9L470.1 165.9L470.6 165.8L471.1 168.0L471.6 169.4L472.1 165.9L472.6 163.1L473.1 161.0L473.6 154.1L474.1 148.1L474.6 147.6L475.1 148.7L475.6 149.0L476.1 149.4L476.6 179.5L477.1 190.8L477.6 182.8L478.1 176.5L478.6 177.7L479.1 179.2L479.6 180.2L480.1 182.6L480.6 188.9L481.1 184.9L481.6 170.0L482.1 167.8L482.6 171.8L483.1 173.5L483.6 173.9L484.1 174.6L484.6 179.0L485.1 184.9L485.6 176.0L486.1 171.5L486.6 167.1L487.1 164.4L487.6 160.9L488.1 161.4L488.6 176.4L489.1 183.9L489.6 180.5L490.1 182.4L490.6 171.0L491.1 173.4L491.6 161.1L492.1 161.4L492.6 168.7L493.1 178.1L493.6 182.7L494.1 191.9L494.6 189.1L495.1 170.4L495.6 164.4L496.1 168.7L496.6 174.7L497.1 180.4L497.6 184.0L498.1 192.1L498.6 186.0L499.1 182.1L499.6 173.5L500.1 176.0L500.6 172.6L501.1 175.5L501.6 188.8L502.1 181.5L502.6 176.3L503.1 160.3L503.6 143.9L504.1 143.9L504.6 156.2L505.1 174.4L505.6 185.2L506.1 195.2L506.6 170.2L507.1 170.2L507.6 179.4L508.1 180.8L508.6 197.5L509.1 196.2L509.6 192.3L510.1 180.7L510.6 175.5L511.1 175.5L511.1 191.5L510.6 193.4L510.1 201.4L509.6 209.2L509.1 207.5L508.6 206.7L508.1 198.4L507.6 193.5L507.1 182.8L506.6 205.0L506.1 214.0L505.6 210.8L505.1 197.2L504.6 184.7L504.1 162.9L503.6 161.0L503.1 185.8L502.6 191.5L502.1 197.3L501.6 204.6L501.1 194.2L500.6 182.6L500.1 184.6L499.6 184.9L499.1 193.5L498.6 199.8L498.1 206.9L497.6 202.0L497.1 193.5L496.6 191.3L496.1 185.6L495.6 180.4L495.1 196.0L494.6 210.2L494.1 206.1L493.6 203.0L493.1 197.4L492.6 193.8L492.1 173.8L491.6 177.2L491.1 187.8L490.6 190.4L490.1 196.8L489.6 203.0L489.1 197.8L488.6 188.7L488.1 183.4L487.6 172.0L487.1 179.4L486.6 186.5L486.1 188.1L485.6 190.6L485.1 199.1L484.6 201.2L484.1 188.0L483.6 188.0L483.1 185.1L482.6 184.5L482.1 182.4L481.6 194.2L481.1 201.0L480.6 203.6L480.1 194.2L479.6 194.9L479.1 193.0L478.6 192.4L478.1 189.4L477.6 194.8L477.1 206.9L476.6 204.3L476.1 171.2L475.6 153.8L475.1 155.8L474.6 156.0L474.1 159.8L473.6 166.0L473.1 168.3L472.6 173.6L472.1 175.2L471.6 177.2L471.1 176.4L470.6 174.1L470.1 180.7L469.6 180.9L469.1 185.1L468.6 187.2L468.1 185.6L467.6 185.2L467.1 181.9L466.6 179.9L466.1 184.3L465.6 190.5L465.1 197.0L464.6 195.5L464.1 195.5L463.6 192.6L463.1 187.0L462.6 188.5L462.1 193.6L461.6 192.9L461.1 190.4L460.6 194.1L460.1 190.9L459.6 192.6L459.1 191.1L458.6 193.7L458.1 196.0L457.6 196.1L457.1 190.0L456.6 192.9L456.1 190.5L455.6 191.0L455.1 187.9L454.6 190.2L454.1 192.2L453.6 196.4L453.1 195.9L452.6 193.9L452.1 196.6L451.6 197.4L451.1 199.6L450.6 199.6L450.1 198.8L449.6 199.6L449.1 197.0L448.6 194.5L448.1 188.8L447.6 190.2L447.1 192.2L446.6 195.0L446.1 197.9L445.6 199.6L445.1 198.5L444.6 198.2L444.1 194.1L443.6 193.1L443.1 195.1L442.6 189.5L442.1 189.1L441.6 193.5L441.1 193.4L440.6 192.0L440.1 195.2L439.6 194.9L439.1 194.5L438.6 191.5L438.1 187.5L437.6 190.4L437.1 191.9L436.6 193.7L436.1 195.7L435.6 199.1L435.1 200.1L434.6 199.8L434.1 199.1L433.6 197.9L433.1 197.0L432.6 192.4L432.1 192.3L431.6 196.4L431.1 198.1L430.6 199.5L430.1 200.0L429.6 199.4L429.1 194.9L428.6 194.0L428.1 195.2L427.6 196.4L427.1 199.5L426.6 199.2L426.1 197.4L425.6 200.0L425.1 202.4L424.6 197.9Z" fill="#0000ff" stroke="#0000ff" stroke-width="1.2" stroke-linejoin="round"/><polyline points="398.8,154.7 400.2,154.1 401.6,153.4 403.1,152.9 404.5,152.3 405.9,151.9 407.3,151.4 408.8,151.0 410.2,150.7 411.6,150.4 413.0,150.2 414.4,150.0 415.9,149.9 417.3,149.8 418.7,149.8 420.1,149.8 421.5,149.9 423.0,150.0 424.4,150.2 425.8,150.4 427.2,150.7 428.7,151.1 430.1,151.5 431.5,151.9 432.9,152.4 434.3,152.9 435.8,153.5 437.2,154.1 438.6,154.8 440.0,155.5 441.5,156.3 442.9,157.1 444.3,157.9 445.7,158.8 447.1,159.7 448.6,160.7 450.0,161.7 451.4,162.7 452.8,163.8 454.2,164.9 455.7,166.0 457.1,167.2 458.5,168.4 459.9,169.6 461.4,170.8 462.8,172.1 464.2,173.3 465.6,174.6 467.0,175.9 468.5,177.3 469.9,178.6 471.3,179.9 472.7,181.3 474.2,182.7 475.6,184.0 477.0,185.4 478.4,186.8 479.8,188.1 481.3,189.5 482.7,190.8 484.1,192.2 485.5,193.5 486.9,194.8 488.4,196.2 489.8,197.5 491.2,198.7 492.6,200.0 494.1,201.3 495.5,202.5 496.9,203.7 498.3,204.8 499.7,206.0 501.2,207.1 502.6,208.2 504.0,209.2 505.4,210.2 506.9,211.2 508.3,212.2 509.7,213.1 511.1,213.9" fill="none" stroke="#0000ff" stroke-width="1.15"/></g><path d="M398.8 137.7H516.5M398.8 229.8H516.5M516.5 137.7V229.8" stroke="#8c8c8c" stroke-width="0.8" fill="none"/><path d="M398.8 137.7V229.8" stroke="#9c9cff" stroke-width="1" fill="none"/><path d="M398.8 229.8v-1.2M398.8 137.7v1.2M432.4 229.8v-1.2M432.4 137.7v1.2M466.1 229.8v-1.2M466.1 137.7v1.2M499.7 229.8v-1.2M499.7 137.7v1.2M516.5 229.8h-1.2M516.5 206.8h-1.2M516.5 183.8h-1.2M516.5 160.7h-1.2M516.5 137.7h-1.2" stroke="#404040" stroke-width="0.6" fill="none"/><path d="M398.8 229.8h1.2M398.8 206.8h1.2M398.8 183.8h1.2M398.8 160.7h1.2M398.8 137.7h1.2" stroke="#0000ff" stroke-width="0.6" fill="none"/><text x="399.2" y="242.9" text-anchor="middle" class="tk">0</text><text x="432.8" y="242.9" text-anchor="middle" class="tk">1</text><text x="466.5" y="242.9" text-anchor="middle" class="tk">2</text><text x="500.1" y="242.9" text-anchor="middle" class="tk">3</text><text x="396.0" y="233.5" text-anchor="end" class="tk bl">-20</text><text x="396.0" y="210.5" text-anchor="end" class="tk bl">-10</text><text x="396.0" y="187.4" text-anchor="end" class="tk bl">0</text><text x="396.0" y="164.4" text-anchor="end" class="tk bl">10</text><text x="396.0" y="141.4" text-anchor="end" class="tk bl">20</text><text x="520.1" y="233.7" class="tk">0</text><text x="520.1" y="210.7" class="tk">20</text><text x="520.1" y="187.7" class="tk">40</text><text x="520.1" y="164.6" class="tk">60</text><text x="520.1" y="141.6" class="tk">80</text><text x="458.0" y="257.1" text-anchor="middle" class="lb">Time [hour]</text><text transform="translate(377.6 183.8) rotate(-90)" text-anchor="middle" class="lb bl">Residual [mm]</text><text transform="translate(541.6 183.3) rotate(-90)" text-anchor="middle" class="lb">Elevation [deg]</text><rect x="403.9" y="215.6" width="108" height="8.8" fill="#fff" stroke="#555" stroke-width="0.5"/><path d="M405.1 220.0h12" stroke="#ff0000" stroke-width="1.6" stroke-dasharray="1.3 1"/><text x="418.7" y="222.2" class="lg">Day-7</text><circle cx="444.3" cy="220.0" r="0.75" fill="#0000ff"/><text x="452.1" y="222.2" class="lg">Day-8</text><path d="M471.8 220.0h11" stroke="#0000ff" stroke-width="1.6"/><text x="484.6" y="222.2" class="lg">elevation</text></g>
</svg>
</body></html>
